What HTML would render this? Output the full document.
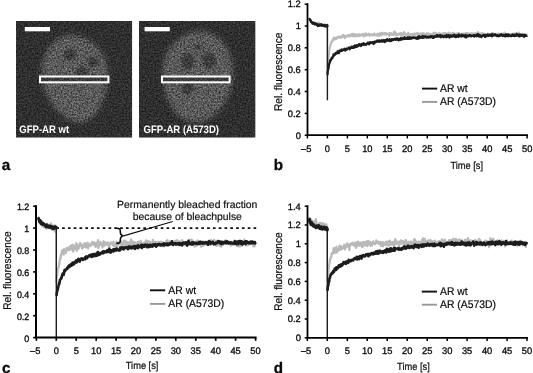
<!DOCTYPE html>
<html lang="en"><head><meta charset="utf-8"><title>FRAP of GFP-AR wt and GFP-AR (A573D)</title>
<style>
html,body{margin:0;padding:0;background:#fff;}
body{width:533px;height:373px;overflow:hidden;}
svg{display:block;font-family:"Liberation Sans", Arial, Helvetica, sans-serif;text-rendering:geometricPrecision;}
.tk{font-size:9.3px;fill:#0a0a0a;stroke:#0a0a0a;stroke-width:0.32px;}
.tx{font-size:9.5px;fill:#0a0a0a;stroke:#0a0a0a;stroke-width:0.32px;}
.lg{font-size:11px;fill:#0a0a0a;stroke:#0a0a0a;stroke-width:0.2px;}
.ax{font-size:10.3px;fill:#0a0a0a;stroke:#0a0a0a;stroke-width:0.2px;}
.ay{font-size:11.1px;fill:#0a0a0a;stroke:#0a0a0a;stroke-width:0.2px;}
.pl{font-size:15.2px;font-weight:bold;fill:#0a0a0a;stroke:#0a0a0a;stroke-width:0.3px;}
.im{font-size:10.8px;font-weight:bold;fill:#fff;}
.an{font-size:10.4px;fill:#111;stroke:#111;stroke-width:0.2px;}
</style></head><body>
<svg width="533" height="373" viewBox="0 0 533 373">
<defs>
<filter id="noise" x="0" y="0" width="100%" height="100%" color-interpolation-filters="sRGB">
<feTurbulence type="fractalNoise" baseFrequency="0.62" numOctaves="2" seed="5" result="t"/>
<feColorMatrix in="t" type="matrix" values="1 0 0 0 0  1 0 0 0 0  1 0 0 0 0  0 0 0 0 1" result="n"/>
<feComposite in="SourceGraphic" in2="n" operator="arithmetic" k1="1.8" k2="0.1" k3="0" k4="0"/>
</filter>
<filter id="blur" x="-20%" y="-20%" width="140%" height="140%"><feGaussianBlur stdDeviation="2.8"/></filter>
<filter id="blur2" x="-50%" y="-50%" width="200%" height="200%"><feGaussianBlur stdDeviation="1.6"/></filter>
<clipPath id="c1"><rect x="16" y="21" width="116.2" height="116.5"/></clipPath>
<clipPath id="c2"><rect x="139" y="21" width="116.4" height="116.5"/></clipPath>
</defs>
<g clip-path="url(#c1)"><g filter="url(#noise)"><rect x="16" y="21" width="116.2" height="116.5" fill="#2f2f2f"/><path d="M72,35 C90,35 108.2,52 108.2,74 C108.2,98 96,122.5 80,122.5 C62,122.5 41.4,98 41.4,72 C41.4,51 55,35 72,35 Z" fill="#5a5a5a" filter="url(#blur)"/><ellipse cx="70" cy="54.5" rx="6.5" ry="5.5" fill="#3a3a3a" filter="url(#blur2)"/><ellipse cx="93" cy="61.7" rx="5" ry="5" fill="#3a3a3a" filter="url(#blur2)"/><ellipse cx="82" cy="71.5" rx="6.5" ry="4.5" fill="#3a3a3a" filter="url(#blur2)"/><rect x="40" y="76.5" width="68.4" height="5.8" fill="#3c3c3c"/></g></g>
<rect x="40" y="76.5" width="68.4" height="5.8" fill="none" stroke="#fff" stroke-width="2"/><rect x="24.8" y="27" width="25.2" height="4.3" fill="#fff"/><text class="im" transform="translate(19.30,133.10) scale(0.885,1)">GFP-AR wt</text>
<g clip-path="url(#c2)"><g filter="url(#noise)"><rect x="139" y="21" width="116.4" height="116.5" fill="#2f2f2f"/><path d="M200,31 C218,31 233,48 233,72 C233,100 215,122.5 195,122.5 C177,122.5 162.5,100 162.5,72 C162.5,48 182,31 200,31 Z" fill="#5a5a5a" filter="url(#blur)"/><ellipse cx="187.8" cy="61.5" rx="6.5" ry="8.5" fill="#3a3a3a" filter="url(#blur2)"/><ellipse cx="209.2" cy="60.5" rx="6.5" ry="8" fill="#3a3a3a" filter="url(#blur2)"/><ellipse cx="198.3" cy="47.4" rx="3.2" ry="3.2" fill="#3a3a3a" filter="url(#blur2)"/><ellipse cx="187.8" cy="88" rx="6.5" ry="6" fill="#3a3a3a" filter="url(#blur2)"/><rect x="162" y="76.5" width="67.6" height="5.8" fill="#3c3c3c"/></g></g>
<rect x="162" y="76.5" width="67.6" height="5.8" fill="none" stroke="#fff" stroke-width="2"/><rect x="144.6" y="27" width="25.2" height="4.3" fill="#fff"/><text class="im" transform="translate(143.60,133.10) scale(0.885,1)">GFP-AR (A573D)</text>
<text class="pl" transform="translate(1.80,170.10)">a</text>
<path d="M309.6,19.4 L310.0,20.3 L310.3,20.3 L310.6,20.2 L311.0,20.9 L311.3,20.8 L311.7,22.0 L312.0,23.4 L312.3,22.1 L312.7,22.2 L313.0,23.3 L313.4,23.4 L313.7,23.4 L314.0,22.6 L314.4,23.5 L314.7,24.3 L315.1,22.6 L315.4,23.5 L315.7,22.4 L316.1,23.0 L316.4,22.6 L316.8,24.0 L317.1,23.2 L317.4,24.6 L317.8,24.6 L318.1,24.3 L318.5,22.4 L318.8,24.2 L319.1,24.6 L319.5,24.8 L319.8,23.5 L320.2,24.4 L320.5,24.0 L320.8,24.2 L321.2,25.9 L321.5,24.3 L321.9,25.0 L322.2,25.9 L322.5,24.7 L322.9,25.1 L323.2,25.3 L323.6,25.3 L323.9,24.3 L324.2,25.4 L324.6,26.6 L324.9,24.2 L325.3,26.2 L325.6,25.7 L325.9,25.1 L326.3,27.3 L326.6,26.3 L327.0,24.7 L327.3,25.8 L327.4,25.8" fill="none" stroke="#b9b9b9" stroke-width="2" stroke-linejoin="round" stroke-linecap="round"/>
<line x1="327.4" y1="25.8" x2="327.4" y2="67.5" stroke="#b9b9b9" stroke-width="1.4"/>
<path d="M327.5,67.5 L327.7,64.7 L328.0,60.9 L328.4,58.8 L328.7,55.5 L329.1,53.4 L329.4,51.7 L329.7,47.6 L330.1,46.9 L330.4,45.1 L330.8,44.5 L331.1,42.3 L331.4,41.8 L331.8,41.2 L332.1,41.7 L332.5,41.5 L332.8,39.1 L333.1,39.2 L333.5,40.1 L333.8,37.5 L334.2,38.5 L334.5,38.6 L334.8,39.5 L335.2,38.9 L335.5,37.9 L335.9,37.7 L336.2,37.7 L336.5,39.1 L336.9,37.3 L337.2,37.3 L337.6,37.7 L337.9,37.3 L338.2,37.1 L338.6,36.3 L338.9,37.2 L339.3,36.7 L339.6,38.1 L339.9,37.6 L340.3,36.9 L340.6,37.5 L341.0,36.6 L341.3,37.7 L341.6,36.8 L342.0,37.2 L342.3,35.6 L342.7,36.9 L343.0,35.1 L343.3,34.8 L343.7,36.2 L344.0,35.7 L344.4,36.5 L344.7,38.3 L345.0,35.6 L345.4,35.7 L345.7,36.4 L346.1,36.6 L346.4,36.0 L346.7,35.9 L347.1,36.7 L347.4,36.5 L347.8,35.1 L348.1,35.9 L348.4,36.0 L348.8,35.0 L349.1,36.1 L349.5,35.1 L349.8,36.7 L350.1,36.0 L350.5,35.9 L350.8,35.2 L351.2,35.6 L351.5,34.0 L351.8,34.7 L352.2,36.0 L352.5,33.8 L352.9,36.3 L353.2,34.1 L353.5,36.2 L353.9,34.8 L354.2,36.2 L354.6,35.6 L354.9,34.1 L355.2,36.5 L355.6,36.6 L355.9,35.3 L356.3,35.1 L356.6,35.2 L356.9,34.5 L357.3,36.2 L357.6,34.8 L358.0,35.2 L358.3,34.6 L358.6,34.7 L359.0,34.1 L359.3,36.2 L359.7,35.0 L360.0,36.0 L360.3,35.1 L360.7,34.5 L361.0,34.8 L361.4,34.6 L361.7,35.1 L362.0,34.7 L362.4,34.8 L362.7,33.8 L363.1,34.3 L363.4,36.4 L363.7,34.4 L364.1,34.1 L364.4,35.2 L364.8,36.1 L365.1,33.7 L365.4,34.7 L365.8,34.3 L366.1,33.4 L366.5,35.5 L366.8,34.8 L367.1,34.9 L367.5,34.2 L367.8,35.2 L368.2,34.3 L368.5,34.6 L368.8,33.8 L369.2,33.7 L369.5,35.9 L369.9,34.3 L370.2,35.0 L370.5,34.7 L370.9,34.3 L371.2,34.2 L371.6,35.2 L371.9,34.4 L372.2,34.5 L372.6,34.6 L372.9,35.6 L373.3,35.2 L373.6,34.9 L373.9,34.1 L374.3,33.4 L374.6,35.3 L375.0,35.4 L375.3,34.4 L375.6,35.0 L376.0,35.2 L376.3,35.2 L376.7,35.3 L377.0,34.1 L377.3,35.8 L377.7,33.4 L378.0,35.2 L378.4,34.9 L378.7,35.2 L379.0,36.0 L379.4,35.7 L379.7,33.5 L380.1,33.0 L380.4,35.1 L380.7,33.6 L381.1,34.4 L381.4,35.1 L381.8,33.0 L382.1,32.6 L382.4,34.6 L382.8,34.4 L383.1,34.2 L383.5,34.4 L383.8,33.6 L384.1,33.1 L384.5,34.2 L384.8,33.5 L385.2,32.9 L385.5,34.8 L385.8,34.3 L386.2,34.7 L386.5,33.5 L386.9,33.8 L387.2,33.5 L387.5,33.6 L387.9,34.5 L388.2,33.6 L388.6,34.6 L388.9,34.6 L389.2,36.0 L389.6,33.1 L389.9,35.0 L390.3,34.2 L390.6,34.2 L390.9,33.0 L391.3,33.9 L391.6,34.9 L392.0,34.2 L392.3,34.3 L392.6,34.0 L393.0,35.2 L393.3,34.2 L393.7,32.3 L394.0,33.6 L394.3,32.5 L394.7,31.4 L395.0,33.7 L395.4,35.3 L395.7,34.2 L396.0,33.2 L396.4,33.4 L396.7,35.2 L397.1,34.3 L397.4,34.2 L397.7,34.1 L398.1,34.2 L398.4,34.9 L398.8,34.7 L399.1,34.4 L399.4,33.3 L399.8,34.6 L400.1,33.6 L400.5,35.1 L400.8,33.1 L401.1,34.1 L401.5,34.2 L401.8,33.1 L402.2,35.7 L402.5,35.4 L402.8,33.8 L403.2,34.8 L403.5,34.5 L403.9,32.0 L404.2,34.4 L404.5,34.1 L404.9,34.3 L405.2,33.3 L405.6,34.0 L405.9,34.0 L406.2,35.2 L406.6,34.5 L406.9,34.2 L407.3,35.5 L407.6,33.7 L407.9,33.9 L408.3,32.6 L408.6,35.5 L409.0,35.0 L409.3,35.0 L409.6,34.8 L410.0,34.3 L410.3,34.4 L410.7,34.0 L411.0,34.0 L411.3,34.2 L411.7,35.5 L412.0,34.7 L412.4,34.1 L412.7,33.7 L413.0,33.7 L413.4,35.6 L413.7,34.6 L414.1,34.2 L414.4,33.9 L414.7,33.2 L415.1,34.1 L415.4,34.9 L415.8,33.9 L416.1,34.0 L416.4,34.0 L416.8,34.3 L417.1,32.8 L417.5,34.0 L417.8,33.5 L418.1,34.9 L418.5,33.5 L418.8,34.7 L419.2,35.5 L419.5,33.9 L419.8,33.7 L420.2,34.4 L420.5,34.2 L420.9,33.3 L421.2,34.6 L421.5,35.9 L421.9,34.0 L422.2,34.0 L422.6,33.3 L422.9,34.5 L423.2,33.1 L423.6,33.2 L423.9,35.3 L424.3,33.4 L424.6,35.1 L424.9,35.5 L425.3,34.4 L425.6,34.7 L426.0,35.8 L426.3,34.0 L426.6,33.7 L427.0,33.0 L427.3,34.2 L427.7,35.4 L428.0,35.0 L428.3,33.4 L428.7,33.5 L429.0,33.8 L429.4,34.4 L429.7,34.0 L430.0,34.4 L430.4,34.4 L430.7,33.9 L431.1,34.2 L431.4,34.4 L431.7,34.1 L432.1,34.6 L432.4,35.8 L432.8,34.7 L433.1,34.2 L433.4,32.8 L433.8,34.5 L434.1,32.5 L434.5,33.0 L434.8,34.9 L435.1,34.8 L435.5,34.1 L435.8,32.7 L436.2,33.9 L436.5,33.6 L436.8,34.7 L437.2,36.1 L437.5,34.4 L437.9,33.5 L438.2,33.2 L438.5,34.1 L438.9,34.0 L439.2,33.2 L439.6,34.3 L439.9,33.2 L440.2,35.1 L440.6,35.1 L440.9,35.1 L441.3,33.8 L441.6,34.6 L441.9,34.1 L442.3,33.9 L442.6,33.9 L443.0,33.1 L443.3,33.0 L443.6,34.9 L444.0,34.0 L444.3,34.4 L444.7,35.0 L445.0,32.7 L445.3,33.5 L445.7,34.3 L446.0,34.5 L446.4,33.9 L446.7,35.1 L447.0,34.4 L447.4,33.2 L447.7,33.4 L448.1,34.9 L448.4,34.6 L448.7,32.6 L449.1,35.4 L449.4,34.7 L449.8,35.4 L450.1,33.9 L450.4,34.0 L450.8,33.3 L451.1,36.4 L451.5,34.1 L451.8,35.6 L452.1,33.7 L452.5,34.4 L452.8,32.8 L453.2,33.9 L453.5,35.1 L453.8,33.2 L454.2,35.2 L454.5,34.5 L454.9,33.4 L455.2,33.8 L455.5,33.9 L455.9,34.2 L456.2,33.8 L456.6,33.6 L456.9,34.0 L457.2,33.4 L457.6,33.2 L457.9,34.2 L458.3,35.0 L458.6,33.0 L458.9,34.3 L459.3,33.7 L459.6,33.5 L460.0,35.0 L460.3,33.9 L460.6,35.6 L461.0,33.7 L461.3,34.6 L461.7,34.1 L462.0,33.7 L462.3,34.8 L462.7,34.2 L463.0,34.8 L463.4,34.3 L463.7,33.4 L464.0,34.3 L464.4,34.4 L464.7,35.2 L465.1,33.6 L465.4,34.3 L465.7,32.9 L466.1,34.9 L466.4,33.4 L466.8,32.8 L467.1,34.3 L467.4,35.3 L467.8,33.1 L468.1,33.4 L468.5,33.7 L468.8,33.4 L469.1,34.7 L469.5,33.7 L469.8,33.8 L470.2,34.9 L470.5,33.7 L470.8,34.8 L471.2,33.6 L471.5,33.4 L471.9,32.8 L472.2,36.0 L472.5,34.1 L472.9,34.6 L473.2,34.4 L473.6,34.6 L473.9,34.5 L474.2,36.0 L474.6,33.5 L474.9,33.1 L475.3,33.6 L475.6,33.3 L475.9,35.1 L476.3,35.1 L476.6,33.6 L477.0,33.3 L477.3,34.1 L477.6,35.6 L478.0,32.1 L478.3,34.9 L478.7,33.5 L479.0,35.3 L479.3,33.5 L479.7,34.2 L480.0,33.2 L480.4,33.6 L480.7,35.6 L481.0,35.2 L481.4,34.1 L481.7,33.7 L482.1,32.9 L482.4,34.1 L482.7,34.5 L483.1,34.4 L483.4,34.4 L483.8,33.5 L484.1,34.4 L484.4,34.5 L484.8,35.6 L485.1,36.1 L485.5,34.4 L485.8,33.9 L486.1,34.5 L486.5,34.0 L486.8,33.9 L487.2,34.5 L487.5,33.6 L487.8,35.0 L488.2,34.4 L488.5,34.7 L488.9,34.4 L489.2,33.9 L489.5,33.7 L489.9,34.3 L490.2,34.1 L490.6,34.8 L490.9,34.6 L491.2,33.4 L491.6,34.6 L491.9,33.4 L492.3,34.1 L492.6,34.3 L492.9,32.8 L493.3,34.7 L493.6,34.7 L494.0,34.5 L494.3,34.2 L494.6,34.3 L495.0,33.8 L495.3,34.4 L495.7,34.1 L496.0,34.7 L496.3,33.6 L496.7,34.8 L497.0,34.8 L497.4,34.5 L497.7,34.3 L498.0,35.1 L498.4,33.2 L498.7,35.0 L499.1,34.9 L499.4,34.9 L499.7,35.0 L500.1,34.1 L500.4,34.5 L500.8,35.2 L501.1,35.0 L501.4,34.9 L501.8,33.4 L502.1,35.1 L502.5,35.7 L502.8,35.6 L503.1,34.9 L503.5,33.4 L503.8,35.5 L504.2,34.6 L504.5,32.6 L504.8,35.0 L505.2,33.5 L505.5,33.6 L505.9,34.2 L506.2,35.8 L506.5,34.4 L506.9,35.0 L507.2,36.2 L507.6,36.1 L507.9,34.7 L508.2,34.6 L508.6,33.7 L508.9,34.2 L509.3,35.1 L509.6,35.1 L509.9,34.9 L510.3,35.6 L510.6,34.1 L511.0,34.7 L511.3,35.4 L511.6,35.3 L512.0,35.7 L512.3,35.1 L512.7,34.5 L513.0,35.1 L513.3,34.0 L513.7,33.4 L514.0,35.3 L514.4,34.8 L514.7,35.1 L515.0,33.4 L515.4,34.5 L515.7,34.3 L516.1,34.1 L516.4,32.9 L516.7,34.6 L517.1,35.6 L517.4,35.2 L517.8,34.3 L518.1,34.9 L518.4,35.5 L518.8,32.5 L519.1,34.8 L519.5,35.3 L519.8,35.5 L520.1,36.3 L520.5,35.9 L520.8,35.2 L521.2,35.2 L521.5,35.6 L521.8,34.4 L522.2,34.9 L522.5,35.7 L522.9,36.6 L523.2,34.8 L523.5,34.9 L523.9,35.1 L524.2,36.1 L524.6,34.9 L524.9,36.2 L525.2,34.1 L525.6,34.8 L525.9,34.8 L526.3,35.6 L526.6,35.8 L526.9,33.7" fill="none" stroke="#b9b9b9" stroke-width="2" stroke-linejoin="round" stroke-linecap="butt"/>
<path d="M309.6,18.9 L310.0,20.2 L310.3,20.2 L310.6,20.1 L311.0,22.0 L311.3,22.1 L311.7,22.4 L312.0,22.1 L312.3,23.3 L312.7,22.7 L313.0,23.7 L313.4,22.7 L313.7,22.9 L314.0,23.7 L314.4,23.3 L314.7,24.3 L315.1,24.1 L315.4,23.5 L315.7,24.2 L316.1,24.1 L316.4,24.9 L316.8,24.1 L317.1,24.2 L317.4,25.3 L317.8,26.0 L318.1,25.9 L318.5,24.8 L318.8,25.0 L319.1,25.8 L319.5,24.9 L319.8,24.4 L320.2,25.1 L320.5,25.4 L320.8,24.6 L321.2,24.2 L321.5,24.4 L321.9,25.7 L322.2,24.9 L322.5,25.3 L322.9,25.5 L323.2,25.8 L323.6,25.3 L323.9,25.9 L324.2,25.1 L324.6,25.4 L324.9,25.1 L325.3,26.4 L325.6,25.8 L325.9,25.4 L326.3,25.6 L326.6,25.8 L327.0,26.4 L327.3,25.0 L327.4,26.0" fill="none" stroke="#1c1c1c" stroke-width="2.3" stroke-linejoin="round" stroke-linecap="round"/>
<line x1="327.4" y1="26.0" x2="327.4" y2="100.3" stroke="#1c1c1c" stroke-width="1.4"/>
<path d="M327.5,75.1 L327.7,71.6 L328.0,69.2 L328.4,69.1 L328.7,66.4 L329.1,64.3 L329.4,63.4 L329.7,62.9 L330.1,60.7 L330.4,60.0 L330.8,60.3 L331.1,59.3 L331.4,58.8 L331.8,57.6 L332.1,58.5 L332.5,57.9 L332.8,56.8 L333.1,56.4 L333.5,54.4 L333.8,55.7 L334.2,54.9 L334.5,55.0 L334.8,54.9 L335.2,54.0 L335.5,53.0 L335.9,54.0 L336.2,53.1 L336.5,53.1 L336.9,52.7 L337.2,52.7 L337.6,51.3 L337.9,53.2 L338.2,52.4 L338.6,52.8 L338.9,53.1 L339.3,51.8 L339.6,50.5 L339.9,50.9 L340.3,50.6 L340.6,50.8 L341.0,51.0 L341.3,49.7 L341.6,50.9 L342.0,49.7 L342.3,50.6 L342.7,50.2 L343.0,50.0 L343.3,50.0 L343.7,49.6 L344.0,49.4 L344.4,48.7 L344.7,49.5 L345.0,50.5 L345.4,50.5 L345.7,50.0 L346.1,49.5 L346.4,48.6 L346.7,49.7 L347.1,48.7 L347.4,48.6 L347.8,48.4 L348.1,48.5 L348.4,48.1 L348.8,48.2 L349.1,47.5 L349.5,47.8 L349.8,49.3 L350.1,47.8 L350.5,47.6 L350.8,47.9 L351.2,47.9 L351.5,46.7 L351.8,47.2 L352.2,47.8 L352.5,47.3 L352.9,47.1 L353.2,47.9 L353.5,46.4 L353.9,46.8 L354.2,46.4 L354.6,47.5 L354.9,45.3 L355.2,46.0 L355.6,46.0 L355.9,46.7 L356.3,46.5 L356.6,46.9 L356.9,45.1 L357.3,46.4 L357.6,45.7 L358.0,45.4 L358.3,46.0 L358.6,45.0 L359.0,44.3 L359.3,45.2 L359.7,44.4 L360.0,44.9 L360.3,45.4 L360.7,45.3 L361.0,46.0 L361.4,44.8 L361.7,44.0 L362.0,44.4 L362.4,44.2 L362.7,43.9 L363.1,44.9 L363.4,44.1 L363.7,43.3 L364.1,44.8 L364.4,44.2 L364.8,44.5 L365.1,44.2 L365.4,44.5 L365.8,44.1 L366.1,44.7 L366.5,44.1 L366.8,44.0 L367.1,44.0 L367.5,42.8 L367.8,43.5 L368.2,43.4 L368.5,43.6 L368.8,42.6 L369.2,44.3 L369.5,43.3 L369.9,42.5 L370.2,42.1 L370.5,42.9 L370.9,42.9 L371.2,42.5 L371.6,42.9 L371.9,42.4 L372.2,43.1 L372.6,42.2 L372.9,42.6 L373.3,43.1 L373.6,44.0 L373.9,41.8 L374.3,42.1 L374.6,41.8 L375.0,42.7 L375.3,41.5 L375.6,41.8 L376.0,42.0 L376.3,41.4 L376.7,41.3 L377.0,41.5 L377.3,40.5 L377.7,40.8 L378.0,41.4 L378.4,41.6 L378.7,41.4 L379.0,40.4 L379.4,41.1 L379.7,41.8 L380.1,41.6 L380.4,41.1 L380.7,40.6 L381.1,41.4 L381.4,40.6 L381.8,40.2 L382.1,40.4 L382.4,41.7 L382.8,40.9 L383.1,41.4 L383.5,40.3 L383.8,41.1 L384.1,40.2 L384.5,40.4 L384.8,42.0 L385.2,40.9 L385.5,40.1 L385.8,40.3 L386.2,40.5 L386.5,41.0 L386.9,39.9 L387.2,39.1 L387.5,40.0 L387.9,40.1 L388.2,40.1 L388.6,40.8 L388.9,40.2 L389.2,40.5 L389.6,39.3 L389.9,40.4 L390.3,41.1 L390.6,40.3 L390.9,39.9 L391.3,39.8 L391.6,40.8 L392.0,39.1 L392.3,39.6 L392.6,39.9 L393.0,40.0 L393.3,39.3 L393.7,39.7 L394.0,39.3 L394.3,39.5 L394.7,39.3 L395.0,38.7 L395.4,39.3 L395.7,39.8 L396.0,38.7 L396.4,39.1 L396.7,39.6 L397.1,38.5 L397.4,39.2 L397.7,38.5 L398.1,39.7 L398.4,40.4 L398.8,40.2 L399.1,38.8 L399.4,39.4 L399.8,39.0 L400.1,38.9 L400.5,39.8 L400.8,38.0 L401.1,39.4 L401.5,38.7 L401.8,39.6 L402.2,38.8 L402.5,38.2 L402.8,38.8 L403.2,39.0 L403.5,38.6 L403.9,38.8 L404.2,38.2 L404.5,37.2 L404.9,39.0 L405.2,38.8 L405.6,38.5 L405.9,38.4 L406.2,38.9 L406.6,38.0 L406.9,37.8 L407.3,38.1 L407.6,38.9 L407.9,37.4 L408.3,38.9 L408.6,37.8 L409.0,37.4 L409.3,38.8 L409.6,38.0 L410.0,37.3 L410.3,37.8 L410.7,38.5 L411.0,38.7 L411.3,37.7 L411.7,38.2 L412.0,38.3 L412.4,37.5 L412.7,38.1 L413.0,37.8 L413.4,37.5 L413.7,37.5 L414.1,37.8 L414.4,37.7 L414.7,37.4 L415.1,37.4 L415.4,38.3 L415.8,37.8 L416.1,38.1 L416.4,38.3 L416.8,37.9 L417.1,38.9 L417.5,37.0 L417.8,38.0 L418.1,37.3 L418.5,38.6 L418.8,38.5 L419.2,36.2 L419.5,36.8 L419.8,37.8 L420.2,37.8 L420.5,37.8 L420.9,37.3 L421.2,37.6 L421.5,37.7 L421.9,37.2 L422.2,37.8 L422.6,35.8 L422.9,37.6 L423.2,36.5 L423.6,37.7 L423.9,37.0 L424.3,36.6 L424.6,37.3 L424.9,36.5 L425.3,36.5 L425.6,36.1 L426.0,37.0 L426.3,37.3 L426.6,37.6 L427.0,36.9 L427.3,37.5 L427.7,36.9 L428.0,36.8 L428.3,37.2 L428.7,37.5 L429.0,36.6 L429.4,36.7 L429.7,36.7 L430.0,36.9 L430.4,36.3 L430.7,37.4 L431.1,36.5 L431.4,37.0 L431.7,36.2 L432.1,36.9 L432.4,36.9 L432.8,36.4 L433.1,37.9 L433.4,36.9 L433.8,37.7 L434.1,37.2 L434.5,36.2 L434.8,36.4 L435.1,36.9 L435.5,36.6 L435.8,36.6 L436.2,36.4 L436.5,35.5 L436.8,36.4 L437.2,35.2 L437.5,36.7 L437.9,36.1 L438.2,36.1 L438.5,36.3 L438.9,36.6 L439.2,35.6 L439.6,35.4 L439.9,35.8 L440.2,35.2 L440.6,35.8 L440.9,37.3 L441.3,35.7 L441.6,36.7 L441.9,35.5 L442.3,36.5 L442.6,36.1 L443.0,36.3 L443.3,36.6 L443.6,37.3 L444.0,36.4 L444.3,36.3 L444.7,35.7 L445.0,36.6 L445.3,36.1 L445.7,36.7 L446.0,36.2 L446.4,37.2 L446.7,35.0 L447.0,36.0 L447.4,36.7 L447.7,35.9 L448.1,35.7 L448.4,36.0 L448.7,35.3 L449.1,36.2 L449.4,37.6 L449.8,36.8 L450.1,35.4 L450.4,35.6 L450.8,35.8 L451.1,36.7 L451.5,35.6 L451.8,35.7 L452.1,36.6 L452.5,36.6 L452.8,35.8 L453.2,35.4 L453.5,35.1 L453.8,35.6 L454.2,34.7 L454.5,36.5 L454.9,35.6 L455.2,36.3 L455.5,37.1 L455.9,36.7 L456.2,35.3 L456.6,36.5 L456.9,36.7 L457.2,35.5 L457.6,35.4 L457.9,35.9 L458.3,35.0 L458.6,36.8 L458.9,34.5 L459.3,35.3 L459.6,35.8 L460.0,35.8 L460.3,36.0 L460.6,36.1 L461.0,35.8 L461.3,36.6 L461.7,34.6 L462.0,35.9 L462.3,35.5 L462.7,36.0 L463.0,36.0 L463.4,35.3 L463.7,35.5 L464.0,36.3 L464.4,36.1 L464.7,35.4 L465.1,37.1 L465.4,37.2 L465.7,35.0 L466.1,36.0 L466.4,37.3 L466.8,36.3 L467.1,35.9 L467.4,35.7 L467.8,35.5 L468.1,35.7 L468.5,35.5 L468.8,36.2 L469.1,35.5 L469.5,35.5 L469.8,35.0 L470.2,35.7 L470.5,35.2 L470.8,35.6 L471.2,36.4 L471.5,36.0 L471.9,36.0 L472.2,35.9 L472.5,35.8 L472.9,35.6 L473.2,35.5 L473.6,36.2 L473.9,35.0 L474.2,36.5 L474.6,35.7 L474.9,35.2 L475.3,35.4 L475.6,35.3 L475.9,35.8 L476.3,35.2 L476.6,36.3 L477.0,35.2 L477.3,34.3 L477.6,35.2 L478.0,34.4 L478.3,35.6 L478.7,36.3 L479.0,36.0 L479.3,34.8 L479.7,35.2 L480.0,36.7 L480.4,35.8 L480.7,35.6 L481.0,36.2 L481.4,37.1 L481.7,36.4 L482.1,35.7 L482.4,35.8 L482.7,35.9 L483.1,35.2 L483.4,34.9 L483.8,35.6 L484.1,35.0 L484.4,35.5 L484.8,35.6 L485.1,36.9 L485.5,35.0 L485.8,35.4 L486.1,35.4 L486.5,35.8 L486.8,36.1 L487.2,35.2 L487.5,35.0 L487.8,34.5 L488.2,34.9 L488.5,35.8 L488.9,35.5 L489.2,34.9 L489.5,35.3 L489.9,35.5 L490.2,35.8 L490.6,35.1 L490.9,35.3 L491.2,34.4 L491.6,34.8 L491.9,36.4 L492.3,34.1 L492.6,35.2 L492.9,35.6 L493.3,35.2 L493.6,35.0 L494.0,35.4 L494.3,35.4 L494.6,35.4 L495.0,34.3 L495.3,35.3 L495.7,34.9 L496.0,35.1 L496.3,35.6 L496.7,35.8 L497.0,36.0 L497.4,35.1 L497.7,36.0 L498.0,36.1 L498.4,36.1 L498.7,36.2 L499.1,35.3 L499.4,35.3 L499.7,35.9 L500.1,34.6 L500.4,35.5 L500.8,35.1 L501.1,35.2 L501.4,34.3 L501.8,34.8 L502.1,35.4 L502.5,35.9 L502.8,36.0 L503.1,35.3 L503.5,35.2 L503.8,34.9 L504.2,35.6 L504.5,35.2 L504.8,35.7 L505.2,36.4 L505.5,35.3 L505.9,34.4 L506.2,34.8 L506.5,34.5 L506.9,34.6 L507.2,36.1 L507.6,35.5 L507.9,34.4 L508.2,35.7 L508.6,36.1 L508.9,35.1 L509.3,34.9 L509.6,35.1 L509.9,35.5 L510.3,35.7 L510.6,36.0 L511.0,36.0 L511.3,36.0 L511.6,36.1 L512.0,35.7 L512.3,34.4 L512.7,35.2 L513.0,35.5 L513.3,35.0 L513.7,35.8 L514.0,35.1 L514.4,34.7 L514.7,36.1 L515.0,35.7 L515.4,35.4 L515.7,35.8 L516.1,35.9 L516.4,35.5 L516.7,33.8 L517.1,34.8 L517.4,35.0 L517.8,34.7 L518.1,35.4 L518.4,36.0 L518.8,34.9 L519.1,34.6 L519.5,36.4 L519.8,35.0 L520.1,34.5 L520.5,35.4 L520.8,35.5 L521.2,34.8 L521.5,35.7 L521.8,34.9 L522.2,34.7 L522.5,35.3 L522.9,35.7 L523.2,34.8 L523.5,35.4 L523.9,35.1 L524.2,36.9 L524.6,34.8 L524.9,36.0 L525.2,35.2 L525.6,35.1 L525.9,35.6 L526.3,35.7 L526.6,35.9 L526.9,35.4" fill="none" stroke="#1c1c1c" stroke-width="2.3" stroke-linejoin="round" stroke-linecap="butt"/>
<line x1="304.7" y1="135.2" x2="307.5" y2="135.2" stroke="#000" stroke-width="1.5"/><text class="tk" text-anchor="end" transform="translate(300.80,138.50)">0</text><line x1="304.7" y1="113.4" x2="307.5" y2="113.4" stroke="#000" stroke-width="1.5"/><text class="tk" text-anchor="end" transform="translate(300.80,116.66)">0.2</text><line x1="304.7" y1="91.5" x2="307.5" y2="91.5" stroke="#000" stroke-width="1.5"/><text class="tk" text-anchor="end" transform="translate(300.80,94.82)">0.4</text><line x1="304.7" y1="69.7" x2="307.5" y2="69.7" stroke="#000" stroke-width="1.5"/><text class="tk" text-anchor="end" transform="translate(300.80,72.98)">0.6</text><line x1="304.7" y1="47.8" x2="307.5" y2="47.8" stroke="#000" stroke-width="1.5"/><text class="tk" text-anchor="end" transform="translate(300.80,51.14)">0.8</text><line x1="304.7" y1="26.0" x2="307.5" y2="26.0" stroke="#000" stroke-width="1.5"/><text class="tk" text-anchor="end" transform="translate(300.80,29.30)">1</text><line x1="304.7" y1="4.2" x2="307.5" y2="4.2" stroke="#000" stroke-width="1.5"/><text class="tk" text-anchor="end" transform="translate(300.80,7.46)">1.2</text><line x1="307.4" y1="135.2" x2="307.4" y2="138.4" stroke="#000" stroke-width="1.5"/><text class="tx" text-anchor="middle" transform="translate(306.22,151.70) scale(0.98,1)">–5</text><line x1="327.4" y1="135.2" x2="327.4" y2="138.4" stroke="#000" stroke-width="1.5"/><text class="tx" text-anchor="middle" transform="translate(327.40,151.70) scale(0.98,1)">0</text><line x1="347.4" y1="135.2" x2="347.4" y2="138.4" stroke="#000" stroke-width="1.5"/><text class="tx" text-anchor="middle" transform="translate(347.38,151.70) scale(0.98,1)">5</text><line x1="367.3" y1="135.2" x2="367.3" y2="138.4" stroke="#000" stroke-width="1.5"/><text class="tx" text-anchor="middle" transform="translate(367.35,151.70) scale(0.98,1)">10</text><line x1="387.3" y1="135.2" x2="387.3" y2="138.4" stroke="#000" stroke-width="1.5"/><text class="tx" text-anchor="middle" transform="translate(387.32,151.70) scale(0.98,1)">15</text><line x1="407.3" y1="135.2" x2="407.3" y2="138.4" stroke="#000" stroke-width="1.5"/><text class="tx" text-anchor="middle" transform="translate(407.30,151.70) scale(0.98,1)">20</text><line x1="427.3" y1="135.2" x2="427.3" y2="138.4" stroke="#000" stroke-width="1.5"/><text class="tx" text-anchor="middle" transform="translate(427.27,151.70) scale(0.98,1)">25</text><line x1="447.2" y1="135.2" x2="447.2" y2="138.4" stroke="#000" stroke-width="1.5"/><text class="tx" text-anchor="middle" transform="translate(447.25,151.70) scale(0.98,1)">30</text><line x1="467.2" y1="135.2" x2="467.2" y2="138.4" stroke="#000" stroke-width="1.5"/><text class="tx" text-anchor="middle" transform="translate(467.23,151.70) scale(0.98,1)">35</text><line x1="487.2" y1="135.2" x2="487.2" y2="138.4" stroke="#000" stroke-width="1.5"/><text class="tx" text-anchor="middle" transform="translate(487.20,151.70) scale(0.98,1)">40</text><line x1="507.2" y1="135.2" x2="507.2" y2="138.4" stroke="#000" stroke-width="1.5"/><text class="tx" text-anchor="middle" transform="translate(507.17,151.70) scale(0.98,1)">45</text><line x1="527.1" y1="135.2" x2="527.1" y2="138.4" stroke="#000" stroke-width="1.5"/><text class="tx" text-anchor="middle" transform="translate(527.15,151.70) scale(0.98,1)">50</text>
<path d="M307.5,4.2 V135.2 H527.1" fill="none" stroke="#000" stroke-width="1.8" stroke-linecap="square"/>
<text class="ay" text-anchor="middle" transform="translate(282.00,71.80) rotate(-90) scale(0.915,1)">Rel. fluorescence</text>
<text class="ax" transform="translate(450.40,169.30) scale(0.9,1)">Time [s]</text>
<text class="pl" transform="translate(273.80,169.80)">b</text>
<line x1="422" y1="88.6" x2="437.2" y2="88.6" stroke="#111" stroke-width="1.9"/><text class="lg" transform="translate(440.00,92.10) scale(0.945,1)">AR wt</text><line x1="422" y1="101.9" x2="437.2" y2="101.9" stroke="#999" stroke-width="1.9"/><text class="lg" transform="translate(440.00,105.40) scale(0.945,1)">AR (A573D)</text>
<line x1="56.3" y1="228.1" x2="256.6" y2="228.1" stroke="#111" stroke-width="1.8" stroke-dasharray="2.7 3.1"/>
<path d="M38.6,217.3 L38.9,218.2 L39.2,220.4 L39.6,221.2 L39.9,223.0 L40.3,222.0 L40.6,223.4 L40.9,224.6 L41.3,222.9 L41.6,220.8 L42.0,221.6 L42.3,221.5 L42.6,226.4 L43.0,223.0 L43.3,226.3 L43.7,225.6 L44.0,227.5 L44.3,226.6 L44.7,225.1 L45.0,225.2 L45.4,225.8 L45.7,226.0 L46.0,225.1 L46.4,226.0 L46.7,228.6 L47.1,223.7 L47.4,226.8 L47.7,225.1 L48.1,226.8 L48.4,227.9 L48.8,226.7 L49.1,228.0 L49.4,224.5 L49.8,228.6 L50.1,226.1 L50.5,228.0 L50.8,227.5 L51.1,223.4 L51.5,226.2 L51.8,227.7 L52.2,229.8 L52.5,227.9 L52.8,227.9 L53.2,225.5 L53.5,229.8 L53.9,230.4 L54.2,227.8 L54.5,227.5 L54.9,225.4 L55.2,229.2 L55.6,232.0 L55.9,229.1 L56.2,229.9 L56.3,228.1" fill="none" stroke="#b9b9b9" stroke-width="2.2" stroke-linejoin="round" stroke-linecap="round"/>
<line x1="56.3" y1="228.1" x2="56.3" y2="282.9" stroke="#b9b9b9" stroke-width="1.4"/>
<path d="M56.4,282.9 L56.6,280.4 L56.9,274.9 L57.3,275.5 L57.6,269.3 L58.0,269.0 L58.3,268.0 L58.6,267.3 L59.0,265.2 L59.3,263.8 L59.7,260.7 L60.0,258.5 L60.3,259.2 L60.7,256.8 L61.0,254.7 L61.4,253.6 L61.7,253.7 L62.0,250.7 L62.4,250.6 L62.7,250.0 L63.1,252.4 L63.4,252.5 L63.7,254.7 L64.1,249.2 L64.4,250.3 L64.8,252.4 L65.1,250.6 L65.4,250.2 L65.8,253.1 L66.1,249.8 L66.5,248.4 L66.8,248.0 L67.1,250.3 L67.5,250.1 L67.8,247.5 L68.2,247.9 L68.5,250.1 L68.8,250.0 L69.2,248.0 L69.5,249.8 L69.9,249.6 L70.2,246.0 L70.5,248.1 L70.9,249.0 L71.2,247.5 L71.6,245.0 L71.9,247.7 L72.2,249.1 L72.6,250.3 L72.9,244.5 L73.3,251.6 L73.6,245.9 L73.9,248.9 L74.3,249.3 L74.6,248.8 L75.0,247.5 L75.3,245.4 L75.6,248.0 L76.0,245.9 L76.3,243.1 L76.7,251.0 L77.0,247.8 L77.3,249.4 L77.7,245.2 L78.0,248.7 L78.4,248.8 L78.7,248.7 L79.0,246.2 L79.4,244.4 L79.7,245.9 L80.1,242.8 L80.4,243.4 L80.7,246.1 L81.1,244.4 L81.4,245.6 L81.8,245.6 L82.1,248.6 L82.4,247.6 L82.8,245.5 L83.1,247.3 L83.5,244.3 L83.8,244.9 L84.1,246.7 L84.5,243.4 L84.8,244.8 L85.2,243.2 L85.5,245.3 L85.8,247.5 L86.2,243.8 L86.5,245.3 L86.9,243.6 L87.2,243.2 L87.5,243.0 L87.9,247.0 L88.2,248.4 L88.6,245.5 L88.9,243.7 L89.2,245.8 L89.6,244.2 L89.9,245.9 L90.3,245.1 L90.6,245.1 L90.9,245.6 L91.3,243.8 L91.6,244.0 L92.0,242.0 L92.3,243.9 L92.6,242.4 L93.0,244.3 L93.3,243.1 L93.7,244.6 L94.0,245.2 L94.3,242.3 L94.7,243.2 L95.0,243.0 L95.4,245.5 L95.7,246.9 L96.0,245.6 L96.4,243.8 L96.7,246.5 L97.1,242.0 L97.4,246.5 L97.7,243.3 L98.1,240.1 L98.4,248.2 L98.8,246.6 L99.1,242.7 L99.4,244.4 L99.8,243.9 L100.1,244.3 L100.5,241.9 L100.8,243.1 L101.1,244.8 L101.5,244.4 L101.8,245.9 L102.2,244.2 L102.5,247.6 L102.8,243.0 L103.2,244.4 L103.5,241.1 L103.9,242.1 L104.2,246.0 L104.5,242.5 L104.9,244.7 L105.2,243.8 L105.6,242.4 L105.9,243.4 L106.2,243.1 L106.6,243.2 L106.9,245.0 L107.3,244.9 L107.6,243.0 L107.9,242.5 L108.3,244.3 L108.6,243.7 L109.0,245.4 L109.3,247.8 L109.6,245.1 L110.0,243.7 L110.3,243.5 L110.7,242.5 L111.0,242.4 L111.3,242.3 L111.7,243.2 L112.0,243.1 L112.4,244.8 L112.7,243.1 L113.0,243.4 L113.4,241.9 L113.7,246.2 L114.1,244.4 L114.4,246.4 L114.7,244.9 L115.1,245.9 L115.4,243.3 L115.8,244.7 L116.1,247.7 L116.4,241.8 L116.8,245.4 L117.1,246.1 L117.5,244.2 L117.8,244.7 L118.1,245.5 L118.5,242.6 L118.8,244.2 L119.2,242.2 L119.5,242.5 L119.8,242.6 L120.2,243.3 L120.5,243.7 L120.9,244.2 L121.2,241.3 L121.5,246.5 L121.9,245.3 L122.2,244.6 L122.6,242.9 L122.9,243.3 L123.2,244.3 L123.6,244.1 L123.9,240.9 L124.3,244.6 L124.6,247.9 L124.9,240.6 L125.3,245.0 L125.6,244.0 L126.0,243.2 L126.3,245.5 L126.6,241.6 L127.0,243.7 L127.3,245.7 L127.7,243.1 L128.0,242.8 L128.3,243.6 L128.7,242.7 L129.0,245.8 L129.4,242.0 L129.7,244.7 L130.0,241.5 L130.4,244.4 L130.7,243.2 L131.1,239.4 L131.4,243.4 L131.7,241.7 L132.1,242.7 L132.4,245.8 L132.8,241.7 L133.1,241.7 L133.4,245.6 L133.8,243.6 L134.1,245.8 L134.5,243.9 L134.8,242.0 L135.1,243.3 L135.5,245.3 L135.8,244.8 L136.2,243.4 L136.5,243.4 L136.8,243.2 L137.2,242.5 L137.5,246.3 L137.9,243.4 L138.2,241.6 L138.5,242.6 L138.9,244.5 L139.2,244.3 L139.6,243.1 L139.9,242.3 L140.2,243.4 L140.6,240.8 L140.9,241.3 L141.3,244.6 L141.6,242.6 L141.9,243.9 L142.3,245.2 L142.6,244.3 L143.0,243.4 L143.3,246.6 L143.6,244.4 L144.0,242.8 L144.3,244.5 L144.7,244.0 L145.0,242.0 L145.3,243.4 L145.7,243.1 L146.0,240.3 L146.4,243.1 L146.7,242.9 L147.0,242.6 L147.4,240.8 L147.7,242.8 L148.1,243.3 L148.4,243.5 L148.7,241.6 L149.1,244.3 L149.4,241.4 L149.8,243.0 L150.1,245.3 L150.4,242.2 L150.8,242.5 L151.1,245.0 L151.5,242.7 L151.8,242.8 L152.1,243.6 L152.5,244.9 L152.8,239.9 L153.2,242.0 L153.5,241.7 L153.8,241.6 L154.2,242.0 L154.5,242.0 L154.9,243.7 L155.2,241.9 L155.5,243.5 L155.9,243.9 L156.2,242.2 L156.6,243.5 L156.9,245.8 L157.2,243.8 L157.6,242.3 L157.9,243.2 L158.3,241.9 L158.6,243.7 L158.9,244.6 L159.3,242.0 L159.6,242.9 L160.0,245.0 L160.3,242.5 L160.6,243.6 L161.0,241.7 L161.3,242.0 L161.7,242.5 L162.0,246.5 L162.3,242.6 L162.7,242.5 L163.0,242.4 L163.4,243.0 L163.7,244.2 L164.0,243.5 L164.4,246.3 L164.7,243.6 L165.1,245.4 L165.4,243.7 L165.7,244.2 L166.1,241.1 L166.4,243.1 L166.8,243.1 L167.1,242.9 L167.4,240.0 L167.8,244.6 L168.1,242.7 L168.5,242.6 L168.8,242.9 L169.1,242.9 L169.5,243.8 L169.8,241.3 L170.2,241.8 L170.5,243.7 L170.8,243.4 L171.2,242.7 L171.5,242.4 L171.9,242.0 L172.2,243.1 L172.5,245.0 L172.9,241.6 L173.2,245.5 L173.6,244.5 L173.9,242.5 L174.2,244.4 L174.6,241.0 L174.9,240.6 L175.3,241.3 L175.6,242.6 L175.9,242.7 L176.3,242.4 L176.6,243.4 L177.0,240.0 L177.3,244.0 L177.6,241.1 L178.0,242.2 L178.3,242.6 L178.7,241.5 L179.0,241.2 L179.3,241.7 L179.7,243.2 L180.0,244.1 L180.4,244.1 L180.7,241.7 L181.0,242.0 L181.4,241.8 L181.7,243.9 L182.1,240.2 L182.4,245.1 L182.7,242.5 L183.1,242.0 L183.4,243.7 L183.8,244.8 L184.1,243.7 L184.4,244.8 L184.8,243.4 L185.1,245.1 L185.5,245.1 L185.8,243.1 L186.1,245.4 L186.5,243.5 L186.8,243.3 L187.2,241.8 L187.5,242.8 L187.8,244.4 L188.2,241.2 L188.5,244.2 L188.9,243.7 L189.2,243.6 L189.5,239.9 L189.9,243.1 L190.2,244.2 L190.6,242.1 L190.9,243.3 L191.2,239.6 L191.6,244.2 L191.9,242.2 L192.3,244.5 L192.6,240.4 L192.9,244.2 L193.3,242.9 L193.6,244.4 L194.0,241.8 L194.3,242.3 L194.6,246.6 L195.0,242.0 L195.3,242.2 L195.7,242.8 L196.0,241.7 L196.3,245.0 L196.7,245.8 L197.0,242.2 L197.4,240.6 L197.7,245.0 L198.0,244.9 L198.4,244.4 L198.7,244.9 L199.1,241.9 L199.4,243.0 L199.7,241.1 L200.1,241.1 L200.4,244.7 L200.8,242.2 L201.1,246.6 L201.4,243.3 L201.8,242.3 L202.1,244.4 L202.5,245.9 L202.8,243.9 L203.1,241.4 L203.5,243.8 L203.8,245.3 L204.2,242.5 L204.5,242.1 L204.8,244.7 L205.2,243.4 L205.5,241.6 L205.9,242.6 L206.2,242.1 L206.5,243.7 L206.9,243.4 L207.2,244.9 L207.6,244.3 L207.9,240.9 L208.2,243.8 L208.6,244.6 L208.9,243.9 L209.3,244.8 L209.6,242.4 L209.9,241.8 L210.3,244.6 L210.6,241.6 L211.0,240.0 L211.3,244.7 L211.6,242.1 L212.0,242.8 L212.3,241.1 L212.7,241.2 L213.0,241.5 L213.3,242.7 L213.7,243.8 L214.0,239.8 L214.4,244.3 L214.7,241.4 L215.0,241.6 L215.4,244.2 L215.7,243.1 L216.1,240.9 L216.4,246.0 L216.7,241.9 L217.1,243.6 L217.4,243.5 L217.8,245.3 L218.1,242.5 L218.4,244.7 L218.8,242.1 L219.1,244.9 L219.5,242.1 L219.8,242.7 L220.1,246.1 L220.5,243.7 L220.8,243.4 L221.2,246.6 L221.5,243.8 L221.8,242.0 L222.2,244.3 L222.5,241.4 L222.9,244.9 L223.2,245.0 L223.5,242.4 L223.9,242.3 L224.2,243.5 L224.6,243.2 L224.9,241.7 L225.2,244.1 L225.6,240.1 L225.9,242.6 L226.3,242.6 L226.6,242.8 L226.9,243.7 L227.3,241.4 L227.6,244.1 L228.0,242.9 L228.3,242.2 L228.6,241.2 L229.0,241.4 L229.3,243.8 L229.7,241.8 L230.0,243.3 L230.3,244.8 L230.7,244.8 L231.0,245.6 L231.4,242.8 L231.7,241.6 L232.0,244.7 L232.4,243.7 L232.7,244.9 L233.1,243.2 L233.4,245.0 L233.7,244.5 L234.1,244.3 L234.4,244.0 L234.8,243.8 L235.1,243.6 L235.4,243.5 L235.8,244.7 L236.1,242.4 L236.5,245.8 L236.8,243.1 L237.1,244.7 L237.5,243.1 L237.8,242.8 L238.2,246.3 L238.5,242.7 L238.8,241.3 L239.2,242.1 L239.5,242.7 L239.9,246.4 L240.2,243.5 L240.5,244.6 L240.9,241.7 L241.2,243.7 L241.6,244.2 L241.9,245.9 L242.2,242.2 L242.6,244.1 L242.9,243.7 L243.3,241.7 L243.6,243.2 L243.9,242.8 L244.3,239.7 L244.6,244.1 L245.0,244.0 L245.3,242.6 L245.6,241.2 L246.0,245.4 L246.3,243.6 L246.7,244.7 L247.0,245.3 L247.3,242.4 L247.7,244.4 L248.0,242.8 L248.4,243.1 L248.7,243.1 L249.0,243.2 L249.4,244.9 L249.7,243.4 L250.1,243.0 L250.4,242.8 L250.7,243.7 L251.1,241.9 L251.4,242.5 L251.8,243.1 L252.1,242.4 L252.4,243.0 L252.8,242.3 L253.1,246.2 L253.5,245.2 L253.8,243.9 L254.1,243.1 L254.5,246.5 L254.8,243.7 L255.2,243.1 L255.5,243.7" fill="none" stroke="#b9b9b9" stroke-width="2.2" stroke-linejoin="round" stroke-linecap="butt"/>
<path d="M38.6,218.5 L38.9,220.0 L39.2,219.7 L39.6,221.9 L39.9,220.2 L40.3,221.9 L40.6,221.1 L40.9,223.6 L41.3,222.4 L41.6,223.0 L42.0,224.1 L42.3,224.6 L42.6,223.2 L43.0,224.0 L43.3,223.4 L43.7,224.8 L44.0,224.9 L44.3,224.9 L44.7,224.8 L45.0,225.2 L45.4,225.1 L45.7,226.2 L46.0,227.0 L46.4,224.6 L46.7,226.1 L47.1,225.9 L47.4,226.7 L47.7,225.8 L48.1,226.5 L48.4,225.9 L48.8,227.3 L49.1,226.9 L49.4,226.8 L49.8,227.2 L50.1,226.9 L50.5,225.9 L50.8,227.6 L51.1,227.5 L51.5,227.2 L51.8,228.1 L52.2,228.3 L52.5,226.7 L52.8,227.0 L53.2,228.8 L53.5,228.7 L53.9,227.1 L54.2,226.9 L54.5,227.3 L54.9,227.5 L55.2,226.7 L55.6,228.0 L55.9,227.0 L56.2,227.1 L56.3,228.1" fill="none" stroke="#1c1c1c" stroke-width="2.9" stroke-linejoin="round" stroke-linecap="round"/>
<line x1="56.3" y1="228.1" x2="56.3" y2="337.6" stroke="#1c1c1c" stroke-width="1.4"/>
<path d="M56.4,296.0 L56.6,295.2 L56.9,292.4 L57.3,291.0 L57.6,290.0 L58.0,288.7 L58.3,286.4 L58.6,285.3 L59.0,283.4 L59.3,284.1 L59.7,282.1 L60.0,279.8 L60.3,279.6 L60.7,279.2 L61.0,278.1 L61.4,278.4 L61.7,277.4 L62.0,275.3 L62.4,275.0 L62.7,273.5 L63.1,274.1 L63.4,273.5 L63.7,274.9 L64.1,272.4 L64.4,270.3 L64.8,270.9 L65.1,271.0 L65.4,269.5 L65.8,269.4 L66.1,269.4 L66.5,269.5 L66.8,268.8 L67.1,267.9 L67.5,268.8 L67.8,267.5 L68.2,267.2 L68.5,266.2 L68.8,266.3 L69.2,267.1 L69.5,265.1 L69.9,266.0 L70.2,266.3 L70.5,265.2 L70.9,265.4 L71.2,264.1 L71.6,265.7 L71.9,265.2 L72.2,264.3 L72.6,262.6 L72.9,262.9 L73.3,264.2 L73.6,264.5 L73.9,263.2 L74.3,263.7 L74.6,262.1 L75.0,262.2 L75.3,262.1 L75.6,262.3 L76.0,260.6 L76.3,262.3 L76.7,262.4 L77.0,260.4 L77.3,260.1 L77.7,261.2 L78.0,260.3 L78.4,258.8 L78.7,261.0 L79.0,260.4 L79.4,259.8 L79.7,261.6 L80.1,259.9 L80.4,259.1 L80.7,259.6 L81.1,258.6 L81.4,258.7 L81.8,259.4 L82.1,258.6 L82.4,258.5 L82.8,260.0 L83.1,259.2 L83.5,259.0 L83.8,258.7 L84.1,258.6 L84.5,259.2 L84.8,257.9 L85.2,259.2 L85.5,257.0 L85.8,257.4 L86.2,256.4 L86.5,257.1 L86.9,257.6 L87.2,258.2 L87.5,256.5 L87.9,256.8 L88.2,256.5 L88.6,256.1 L88.9,255.6 L89.2,256.4 L89.6,255.0 L89.9,256.2 L90.3,256.1 L90.6,255.4 L90.9,255.1 L91.3,254.7 L91.6,257.0 L92.0,254.5 L92.3,256.6 L92.6,255.7 L93.0,254.9 L93.3,254.2 L93.7,255.8 L94.0,256.2 L94.3,254.1 L94.7,254.5 L95.0,255.4 L95.4,254.7 L95.7,255.9 L96.0,253.9 L96.4,254.6 L96.7,253.2 L97.1,255.6 L97.4,253.3 L97.7,252.1 L98.1,253.6 L98.4,253.5 L98.8,254.9 L99.1,253.1 L99.4,253.3 L99.8,253.7 L100.1,254.3 L100.5,253.0 L100.8,253.7 L101.1,253.2 L101.5,252.5 L101.8,252.7 L102.2,252.6 L102.5,251.8 L102.8,253.3 L103.2,251.3 L103.5,253.1 L103.9,252.8 L104.2,252.0 L104.5,251.4 L104.9,251.7 L105.2,252.2 L105.6,252.3 L105.9,251.9 L106.2,252.3 L106.6,251.1 L106.9,251.6 L107.3,250.2 L107.6,251.9 L107.9,251.4 L108.3,250.9 L108.6,252.0 L109.0,251.6 L109.3,248.9 L109.6,250.9 L110.0,249.7 L110.3,251.6 L110.7,252.6 L111.0,250.3 L111.3,250.6 L111.7,250.3 L112.0,250.7 L112.4,250.9 L112.7,251.3 L113.0,249.5 L113.4,251.4 L113.7,249.4 L114.1,250.3 L114.4,250.9 L114.7,250.5 L115.1,249.2 L115.4,249.3 L115.8,249.4 L116.1,249.7 L116.4,250.5 L116.8,248.6 L117.1,249.9 L117.5,249.9 L117.8,249.8 L118.1,249.7 L118.5,250.4 L118.8,249.6 L119.2,249.8 L119.5,249.5 L119.8,250.4 L120.2,247.6 L120.5,249.9 L120.9,248.7 L121.2,248.6 L121.5,248.0 L121.9,247.3 L122.2,248.4 L122.6,248.1 L122.9,248.9 L123.2,247.4 L123.6,249.5 L123.9,248.6 L124.3,248.1 L124.6,247.8 L124.9,247.7 L125.3,247.3 L125.6,247.7 L126.0,248.1 L126.3,247.9 L126.6,247.0 L127.0,247.8 L127.3,247.3 L127.7,248.0 L128.0,249.3 L128.3,248.3 L128.7,247.5 L129.0,246.5 L129.4,246.6 L129.7,246.4 L130.0,248.1 L130.4,247.0 L130.7,247.6 L131.1,247.0 L131.4,247.5 L131.7,248.5 L132.1,246.8 L132.4,247.1 L132.8,246.7 L133.1,247.9 L133.4,246.4 L133.8,246.3 L134.1,246.1 L134.5,246.0 L134.8,247.4 L135.1,248.9 L135.5,246.2 L135.8,247.6 L136.2,247.1 L136.5,246.0 L136.8,246.6 L137.2,246.6 L137.5,246.2 L137.9,248.2 L138.2,245.2 L138.5,246.9 L138.9,246.8 L139.2,246.1 L139.6,246.6 L139.9,247.1 L140.2,246.6 L140.6,246.7 L140.9,246.9 L141.3,244.8 L141.6,247.4 L141.9,248.0 L142.3,247.0 L142.6,247.0 L143.0,245.1 L143.3,246.0 L143.6,245.5 L144.0,245.6 L144.3,246.8 L144.7,245.4 L145.0,245.9 L145.3,244.5 L145.7,245.8 L146.0,246.0 L146.4,245.3 L146.7,245.3 L147.0,247.2 L147.4,244.9 L147.7,245.0 L148.1,245.1 L148.4,246.6 L148.7,247.2 L149.1,245.9 L149.4,245.1 L149.8,245.3 L150.1,246.4 L150.4,244.8 L150.8,246.6 L151.1,246.5 L151.5,245.5 L151.8,245.9 L152.1,246.0 L152.5,246.5 L152.8,244.6 L153.2,246.2 L153.5,245.0 L153.8,244.7 L154.2,245.3 L154.5,245.1 L154.9,244.5 L155.2,244.0 L155.5,244.4 L155.9,246.2 L156.2,246.6 L156.6,245.6 L156.9,245.9 L157.2,244.6 L157.6,244.9 L157.9,245.2 L158.3,244.1 L158.6,244.2 L158.9,245.0 L159.3,244.6 L159.6,244.0 L160.0,245.1 L160.3,244.6 L160.6,245.5 L161.0,244.7 L161.3,244.5 L161.7,244.8 L162.0,244.5 L162.3,244.1 L162.7,244.3 L163.0,245.2 L163.4,245.1 L163.7,245.5 L164.0,243.3 L164.4,244.2 L164.7,244.2 L165.1,244.6 L165.4,244.1 L165.7,244.0 L166.1,245.0 L166.4,244.5 L166.8,243.5 L167.1,245.3 L167.4,245.0 L167.8,243.8 L168.1,244.9 L168.5,243.7 L168.8,245.1 L169.1,244.0 L169.5,243.6 L169.8,243.9 L170.2,243.5 L170.5,244.2 L170.8,244.2 L171.2,244.1 L171.5,243.6 L171.9,241.3 L172.2,244.1 L172.5,242.5 L172.9,244.1 L173.2,244.8 L173.6,244.1 L173.9,243.6 L174.2,243.7 L174.6,243.7 L174.9,243.4 L175.3,243.4 L175.6,243.1 L175.9,244.6 L176.3,243.7 L176.6,244.5 L177.0,243.5 L177.3,243.8 L177.6,243.6 L178.0,244.0 L178.3,244.3 L178.7,243.9 L179.0,243.2 L179.3,243.1 L179.7,244.9 L180.0,243.4 L180.4,243.4 L180.7,244.7 L181.0,244.4 L181.4,244.0 L181.7,243.3 L182.1,245.4 L182.4,243.9 L182.7,244.0 L183.1,243.4 L183.4,242.5 L183.8,242.5 L184.1,243.8 L184.4,243.8 L184.8,243.3 L185.1,242.6 L185.5,242.4 L185.8,243.2 L186.1,242.4 L186.5,244.1 L186.8,244.3 L187.2,245.6 L187.5,244.1 L187.8,243.0 L188.2,242.8 L188.5,240.8 L188.9,243.0 L189.2,243.3 L189.5,244.1 L189.9,243.8 L190.2,243.8 L190.6,243.5 L190.9,243.8 L191.2,244.4 L191.6,242.5 L191.9,243.0 L192.3,242.3 L192.6,244.5 L192.9,244.3 L193.3,243.9 L193.6,242.4 L194.0,243.4 L194.3,243.1 L194.6,243.3 L195.0,243.1 L195.3,243.6 L195.7,242.9 L196.0,243.9 L196.3,243.4 L196.7,243.0 L197.0,243.1 L197.4,242.9 L197.7,243.8 L198.0,243.0 L198.4,243.4 L198.7,242.9 L199.1,242.0 L199.4,243.8 L199.7,242.3 L200.1,243.6 L200.4,243.4 L200.8,241.9 L201.1,242.4 L201.4,242.7 L201.8,242.5 L202.1,242.2 L202.5,243.6 L202.8,242.9 L203.1,243.3 L203.5,242.7 L203.8,243.3 L204.2,242.5 L204.5,243.0 L204.8,243.5 L205.2,243.0 L205.5,242.7 L205.9,242.2 L206.2,243.1 L206.5,243.2 L206.9,242.8 L207.2,242.4 L207.6,243.4 L207.9,244.8 L208.2,242.7 L208.6,243.2 L208.9,243.2 L209.3,241.0 L209.6,243.0 L209.9,242.4 L210.3,243.9 L210.6,242.7 L211.0,242.3 L211.3,242.7 L211.6,243.0 L212.0,242.4 L212.3,242.8 L212.7,241.8 L213.0,242.7 L213.3,243.4 L213.7,244.3 L214.0,243.3 L214.4,243.0 L214.7,243.7 L215.0,243.6 L215.4,244.0 L215.7,243.6 L216.1,242.7 L216.4,243.0 L216.7,242.9 L217.1,243.0 L217.4,242.9 L217.8,242.2 L218.1,241.2 L218.4,242.3 L218.8,241.2 L219.1,242.8 L219.5,242.8 L219.8,241.5 L220.1,243.3 L220.5,243.4 L220.8,242.8 L221.2,244.0 L221.5,244.1 L221.8,241.8 L222.2,243.5 L222.5,243.1 L222.9,243.0 L223.2,243.4 L223.5,242.2 L223.9,242.3 L224.2,242.1 L224.6,242.2 L224.9,242.6 L225.2,241.6 L225.6,241.9 L225.9,243.1 L226.3,242.7 L226.6,243.0 L226.9,241.3 L227.3,242.1 L227.6,242.3 L228.0,242.7 L228.3,242.3 L228.6,243.4 L229.0,242.7 L229.3,242.7 L229.7,242.7 L230.0,243.2 L230.3,242.3 L230.7,243.5 L231.0,243.0 L231.4,242.8 L231.7,242.7 L232.0,243.1 L232.4,243.4 L232.7,243.4 L233.1,243.0 L233.4,243.3 L233.7,242.8 L234.1,243.6 L234.4,242.6 L234.8,241.1 L235.1,243.7 L235.4,242.7 L235.8,241.8 L236.1,242.5 L236.5,242.0 L236.8,244.2 L237.1,243.0 L237.5,241.5 L237.8,243.1 L238.2,242.3 L238.5,244.1 L238.8,241.9 L239.2,241.0 L239.5,242.7 L239.9,242.4 L240.2,242.3 L240.5,241.0 L240.9,242.9 L241.2,243.9 L241.6,241.2 L241.9,243.5 L242.2,242.2 L242.6,244.4 L242.9,242.9 L243.3,242.5 L243.6,243.4 L243.9,243.0 L244.3,242.2 L244.6,243.1 L245.0,242.2 L245.3,241.3 L245.6,244.1 L246.0,242.3 L246.3,242.1 L246.7,242.9 L247.0,241.4 L247.3,241.6 L247.7,242.2 L248.0,242.2 L248.4,242.6 L248.7,243.4 L249.0,242.2 L249.4,243.0 L249.7,243.0 L250.1,241.8 L250.4,242.8 L250.7,241.9 L251.1,243.4 L251.4,242.9 L251.8,242.6 L252.1,241.6 L252.4,242.7 L252.8,242.0 L253.1,243.1 L253.5,242.5 L253.8,242.0 L254.1,243.3 L254.5,243.1 L254.8,242.1 L255.2,243.4 L255.5,242.3" fill="none" stroke="#1c1c1c" stroke-width="2.6" stroke-linejoin="round" stroke-linecap="butt"/>
<line x1="33.2" y1="337.6" x2="36" y2="337.6" stroke="#000" stroke-width="1.7"/><text class="tk" text-anchor="end" transform="translate(29.30,341.60) scale(0.96,1)">0</text><line x1="33.2" y1="315.7" x2="36" y2="315.7" stroke="#000" stroke-width="1.7"/><text class="tk" text-anchor="end" transform="translate(29.30,319.70) scale(0.96,1)">0.2</text><line x1="33.2" y1="293.8" x2="36" y2="293.8" stroke="#000" stroke-width="1.7"/><text class="tk" text-anchor="end" transform="translate(29.30,297.80) scale(0.96,1)">0.4</text><line x1="33.2" y1="271.9" x2="36" y2="271.9" stroke="#000" stroke-width="1.7"/><text class="tk" text-anchor="end" transform="translate(29.30,275.90) scale(0.96,1)">0.6</text><line x1="33.2" y1="250.0" x2="36" y2="250.0" stroke="#000" stroke-width="1.7"/><text class="tk" text-anchor="end" transform="translate(29.30,254.00) scale(0.96,1)">0.8</text><line x1="33.2" y1="228.1" x2="36" y2="228.1" stroke="#000" stroke-width="1.7"/><text class="tk" text-anchor="end" transform="translate(29.30,232.10) scale(0.96,1)">1</text><line x1="33.2" y1="206.2" x2="36" y2="206.2" stroke="#000" stroke-width="1.7"/><text class="tk" text-anchor="end" transform="translate(29.30,210.20) scale(0.96,1)">1.2</text><line x1="36.4" y1="337.6" x2="36.4" y2="340.8" stroke="#000" stroke-width="1.7"/><text class="tx" text-anchor="middle" transform="translate(35.17,354.10) scale(0.98,1)">–5</text><line x1="56.3" y1="337.6" x2="56.3" y2="340.8" stroke="#000" stroke-width="1.7"/><text class="tx" text-anchor="middle" transform="translate(56.30,354.10) scale(0.98,1)">0</text><line x1="76.2" y1="337.6" x2="76.2" y2="340.8" stroke="#000" stroke-width="1.7"/><text class="tx" text-anchor="middle" transform="translate(76.22,354.10) scale(0.98,1)">5</text><line x1="96.2" y1="337.6" x2="96.2" y2="340.8" stroke="#000" stroke-width="1.7"/><text class="tx" text-anchor="middle" transform="translate(96.15,354.10) scale(0.98,1)">10</text><line x1="116.1" y1="337.6" x2="116.1" y2="340.8" stroke="#000" stroke-width="1.7"/><text class="tx" text-anchor="middle" transform="translate(116.07,354.10) scale(0.98,1)">15</text><line x1="136.0" y1="337.6" x2="136.0" y2="340.8" stroke="#000" stroke-width="1.7"/><text class="tx" text-anchor="middle" transform="translate(136.00,354.10) scale(0.98,1)">20</text><line x1="155.9" y1="337.6" x2="155.9" y2="340.8" stroke="#000" stroke-width="1.7"/><text class="tx" text-anchor="middle" transform="translate(155.93,354.10) scale(0.98,1)">25</text><line x1="175.8" y1="337.6" x2="175.8" y2="340.8" stroke="#000" stroke-width="1.7"/><text class="tx" text-anchor="middle" transform="translate(175.85,354.10) scale(0.98,1)">30</text><line x1="195.8" y1="337.6" x2="195.8" y2="340.8" stroke="#000" stroke-width="1.7"/><text class="tx" text-anchor="middle" transform="translate(195.77,354.10) scale(0.98,1)">35</text><line x1="215.7" y1="337.6" x2="215.7" y2="340.8" stroke="#000" stroke-width="1.7"/><text class="tx" text-anchor="middle" transform="translate(215.70,354.10) scale(0.98,1)">40</text><line x1="235.6" y1="337.6" x2="235.6" y2="340.8" stroke="#000" stroke-width="1.7"/><text class="tx" text-anchor="middle" transform="translate(235.62,354.10) scale(0.98,1)">45</text><line x1="255.6" y1="337.6" x2="255.6" y2="340.8" stroke="#000" stroke-width="1.7"/><text class="tx" text-anchor="middle" transform="translate(255.55,354.10) scale(0.98,1)">50</text>
<path d="M36,206.2 V337.6 H255.6" fill="none" stroke="#000" stroke-width="2" stroke-linecap="square"/>
<text class="ay" text-anchor="middle" transform="translate(10.60,270.60) rotate(-90) scale(0.915,1)">Rel. fluorescence</text>
<text class="ax" transform="translate(125.80,369.30) scale(0.9,1)">Time [s]</text>
<text class="pl" transform="translate(1.90,373.40)">c</text>
<line x1="150" y1="290.3" x2="165.2" y2="290.3" stroke="#111" stroke-width="1.9"/><text class="lg" transform="translate(168.30,293.80) scale(0.945,1)">AR wt</text><line x1="150" y1="303.9" x2="165.2" y2="303.9" stroke="#999" stroke-width="1.9"/><text class="lg" transform="translate(168.30,307.40) scale(0.945,1)">AR (A573D)</text>
<path d="M116.3,228.3 C120,228.3 120.3,229 120.3,231.5 C120.3,234 120.8,235.6 123.6,235.8 C120.8,236 120.3,237.5 120.3,240 C120.3,242.6 120,243.4 116.3,243.4" fill="none" stroke="#111" stroke-width="1.6"/><line x1="123.6" y1="235.8" x2="172.7" y2="221.5" stroke="#111" stroke-width="1.2"/>
<text class="an" text-anchor="middle" transform="translate(187.20,208.40)">Permanently bleached fraction</text><text class="an" text-anchor="middle" transform="translate(187.30,219.50)">because of bleachpulse</text>
<path d="M309.5,218.0 L309.9,219.0 L310.2,218.1 L310.5,219.0 L310.9,219.8 L311.2,222.6 L311.6,222.9 L311.9,220.6 L312.2,223.7 L312.6,221.4 L312.9,222.3 L313.3,223.3 L313.6,222.7 L313.9,226.1 L314.3,223.0 L314.6,221.0 L315.0,225.0 L315.3,222.6 L315.6,222.9 L316.0,219.0 L316.3,225.1 L316.7,225.0 L317.0,225.1 L317.3,225.5 L317.7,226.7 L318.0,224.2 L318.4,225.8 L318.7,223.4 L319.0,224.1 L319.4,226.3 L319.7,225.4 L320.1,222.9 L320.4,225.5 L320.7,224.8 L321.1,223.9 L321.4,225.9 L321.8,224.7 L322.1,223.0 L322.4,223.7 L322.8,228.1 L323.1,223.3 L323.5,225.9 L323.8,226.6 L324.1,226.7 L324.5,224.0 L324.8,225.4 L325.2,226.1 L325.5,227.2 L325.8,225.0 L326.2,224.3 L326.5,227.6 L326.9,227.8 L327.2,226.8 L327.3,226.4" fill="none" stroke="#b9b9b9" stroke-width="2.2" stroke-linejoin="round" stroke-linecap="round"/>
<line x1="327.3" y1="226.4" x2="327.3" y2="281.4" stroke="#b9b9b9" stroke-width="1.4"/>
<path d="M327.4,281.4 L327.6,277.1 L327.9,275.3 L328.3,272.0 L328.6,270.5 L329.0,265.0 L329.3,264.8 L329.6,262.4 L330.0,259.2 L330.3,259.8 L330.7,258.3 L331.0,256.6 L331.3,256.8 L331.7,253.1 L332.0,254.2 L332.4,254.1 L332.7,253.0 L333.0,253.4 L333.4,249.2 L333.7,248.1 L334.1,250.5 L334.4,250.7 L334.7,253.0 L335.1,250.5 L335.4,248.1 L335.8,250.5 L336.1,247.9 L336.4,246.7 L336.8,252.7 L337.1,249.2 L337.5,249.6 L337.8,249.2 L338.1,251.0 L338.5,248.6 L338.8,249.8 L339.2,246.3 L339.5,245.7 L339.8,249.8 L340.2,249.7 L340.5,248.2 L340.9,247.6 L341.2,247.4 L341.5,246.1 L341.9,249.3 L342.2,247.9 L342.6,247.5 L342.9,247.3 L343.2,248.2 L343.6,247.3 L343.9,247.6 L344.3,244.6 L344.6,247.1 L344.9,249.5 L345.3,245.4 L345.6,245.9 L346.0,247.4 L346.3,247.4 L346.6,246.8 L347.0,243.4 L347.3,246.5 L347.7,243.9 L348.0,244.4 L348.3,246.4 L348.7,245.1 L349.0,246.7 L349.4,250.1 L349.7,246.5 L350.0,246.4 L350.4,243.9 L350.7,244.2 L351.1,243.5 L351.4,244.3 L351.7,243.4 L352.1,244.0 L352.4,244.6 L352.8,243.4 L353.1,242.7 L353.4,242.7 L353.8,245.4 L354.1,244.7 L354.5,246.1 L354.8,246.1 L355.1,244.0 L355.5,245.5 L355.8,242.3 L356.2,247.9 L356.5,246.2 L356.8,244.1 L357.2,242.6 L357.5,244.9 L357.9,241.5 L358.2,243.2 L358.5,245.4 L358.9,244.4 L359.2,243.5 L359.6,245.7 L359.9,242.7 L360.2,244.6 L360.6,243.4 L360.9,242.9 L361.3,244.8 L361.6,242.6 L361.9,246.9 L362.3,243.2 L362.6,247.0 L363.0,242.4 L363.3,244.9 L363.6,242.2 L364.0,242.0 L364.3,244.2 L364.7,245.0 L365.0,242.0 L365.3,245.7 L365.7,242.7 L366.0,244.1 L366.4,244.4 L366.7,244.7 L367.0,241.1 L367.4,246.2 L367.7,244.6 L368.1,243.1 L368.4,242.2 L368.7,241.2 L369.1,241.7 L369.4,244.5 L369.8,243.2 L370.1,242.0 L370.4,242.9 L370.8,246.0 L371.1,243.2 L371.5,242.8 L371.8,245.7 L372.1,244.3 L372.5,243.7 L372.8,242.7 L373.2,241.3 L373.5,241.8 L373.8,242.8 L374.2,243.2 L374.5,244.1 L374.9,244.4 L375.2,243.9 L375.5,243.8 L375.9,242.0 L376.2,240.3 L376.6,242.7 L376.9,242.0 L377.2,242.5 L377.6,243.0 L377.9,241.6 L378.3,241.8 L378.6,243.3 L378.9,243.6 L379.3,242.4 L379.6,244.1 L380.0,243.1 L380.3,241.8 L380.6,243.4 L381.0,246.2 L381.3,242.3 L381.7,245.1 L382.0,245.4 L382.3,245.6 L382.7,242.1 L383.0,246.3 L383.4,243.5 L383.7,242.9 L384.0,242.9 L384.4,244.2 L384.7,243.3 L385.1,243.0 L385.4,245.2 L385.7,242.1 L386.1,241.6 L386.4,244.4 L386.8,244.3 L387.1,244.8 L387.4,241.6 L387.8,244.8 L388.1,243.9 L388.5,245.8 L388.8,241.3 L389.1,243.5 L389.5,242.7 L389.8,240.7 L390.2,242.0 L390.5,244.8 L390.8,242.4 L391.2,242.0 L391.5,244.4 L391.9,244.6 L392.2,244.5 L392.5,241.9 L392.9,243.0 L393.2,244.6 L393.6,242.0 L393.9,241.9 L394.2,244.3 L394.6,245.4 L394.9,241.3 L395.3,239.1 L395.6,240.8 L395.9,241.5 L396.3,242.8 L396.6,243.9 L397.0,242.7 L397.3,241.9 L397.6,243.2 L398.0,241.5 L398.3,242.9 L398.7,242.0 L399.0,246.9 L399.3,244.1 L399.7,241.6 L400.0,241.4 L400.4,242.2 L400.7,240.4 L401.0,241.8 L401.4,241.7 L401.7,244.2 L402.1,242.2 L402.4,241.6 L402.7,240.8 L403.1,241.1 L403.4,242.7 L403.8,242.5 L404.1,244.5 L404.4,241.9 L404.8,244.4 L405.1,243.2 L405.5,242.8 L405.8,239.8 L406.1,240.8 L406.5,243.9 L406.8,244.8 L407.2,243.0 L407.5,243.9 L407.8,242.1 L408.2,242.2 L408.5,241.7 L408.9,244.2 L409.2,243.2 L409.5,242.3 L409.9,242.2 L410.2,243.5 L410.6,243.2 L410.9,241.4 L411.2,245.2 L411.6,243.0 L411.9,242.7 L412.3,244.9 L412.6,244.2 L412.9,242.5 L413.3,243.4 L413.6,241.0 L414.0,241.7 L414.3,239.2 L414.6,244.4 L415.0,239.7 L415.3,243.6 L415.7,241.3 L416.0,241.1 L416.3,242.3 L416.7,243.0 L417.0,243.5 L417.4,245.2 L417.7,243.1 L418.0,243.9 L418.4,241.6 L418.7,243.6 L419.1,242.8 L419.4,241.8 L419.7,242.4 L420.1,242.4 L420.4,242.8 L420.8,243.1 L421.1,241.7 L421.4,241.4 L421.8,243.6 L422.1,239.9 L422.5,241.5 L422.8,244.8 L423.1,238.4 L423.5,241.4 L423.8,243.5 L424.2,240.0 L424.5,246.3 L424.8,238.5 L425.2,244.6 L425.5,244.8 L425.9,243.8 L426.2,242.1 L426.5,242.9 L426.9,241.0 L427.2,243.6 L427.6,240.7 L427.9,242.0 L428.2,243.9 L428.6,240.7 L428.9,241.8 L429.3,242.6 L429.6,240.3 L429.9,244.1 L430.3,242.9 L430.6,240.1 L431.0,242.3 L431.3,241.2 L431.6,241.3 L432.0,242.4 L432.3,241.3 L432.7,243.8 L433.0,241.3 L433.3,243.8 L433.7,242.2 L434.0,243.6 L434.4,241.5 L434.7,241.5 L435.0,240.6 L435.4,243.1 L435.7,243.7 L436.1,245.4 L436.4,244.2 L436.7,242.6 L437.1,241.9 L437.4,242.8 L437.8,242.2 L438.1,244.4 L438.4,243.7 L438.8,241.0 L439.1,241.2 L439.5,244.3 L439.8,242.7 L440.1,241.9 L440.5,244.0 L440.8,241.6 L441.2,241.8 L441.5,241.5 L441.8,239.3 L442.2,243.5 L442.5,240.4 L442.9,241.3 L443.2,241.1 L443.5,243.3 L443.9,242.1 L444.2,242.2 L444.6,239.6 L444.9,242.0 L445.2,239.9 L445.6,242.6 L445.9,242.7 L446.3,242.1 L446.6,245.2 L446.9,242.9 L447.3,243.0 L447.6,242.3 L448.0,241.8 L448.3,243.6 L448.6,243.8 L449.0,240.2 L449.3,243.7 L449.7,242.9 L450.0,243.5 L450.3,242.8 L450.7,240.2 L451.0,240.3 L451.4,244.8 L451.7,242.5 L452.0,240.0 L452.4,242.6 L452.7,241.5 L453.1,239.3 L453.4,238.6 L453.7,239.7 L454.1,242.5 L454.4,242.0 L454.8,241.7 L455.1,242.5 L455.4,242.9 L455.8,238.9 L456.1,241.6 L456.5,240.8 L456.8,240.2 L457.1,241.2 L457.5,241.8 L457.8,241.6 L458.2,239.8 L458.5,241.3 L458.8,245.0 L459.2,240.4 L459.5,239.5 L459.9,242.4 L460.2,242.9 L460.5,242.7 L460.9,240.3 L461.2,243.5 L461.6,240.8 L461.9,240.3 L462.2,241.1 L462.6,241.8 L462.9,243.0 L463.3,242.9 L463.6,241.9 L463.9,243.4 L464.3,242.1 L464.6,243.3 L465.0,239.8 L465.3,239.6 L465.6,243.1 L466.0,239.8 L466.3,241.5 L466.7,241.8 L467.0,241.2 L467.3,241.2 L467.7,244.0 L468.0,238.1 L468.4,243.3 L468.7,245.4 L469.0,242.0 L469.4,241.9 L469.7,243.1 L470.1,244.7 L470.4,240.2 L470.7,242.1 L471.1,241.7 L471.4,242.8 L471.8,242.2 L472.1,243.0 L472.4,241.4 L472.8,242.1 L473.1,241.0 L473.5,241.0 L473.8,241.8 L474.1,241.8 L474.5,240.3 L474.8,244.4 L475.2,241.9 L475.5,240.0 L475.8,243.7 L476.2,241.0 L476.5,242.9 L476.9,242.1 L477.2,242.5 L477.5,242.4 L477.9,241.3 L478.2,242.2 L478.6,245.2 L478.9,238.8 L479.2,242.2 L479.6,242.8 L479.9,240.6 L480.3,240.1 L480.6,245.4 L480.9,241.6 L481.3,245.3 L481.6,243.0 L482.0,242.3 L482.3,242.9 L482.6,243.1 L483.0,244.0 L483.3,242.9 L483.7,242.4 L484.0,242.5 L484.3,244.3 L484.7,243.5 L485.0,240.7 L485.4,241.3 L485.7,242.7 L486.0,241.3 L486.4,241.7 L486.7,240.8 L487.1,241.9 L487.4,242.9 L487.7,243.8 L488.1,242.3 L488.4,245.4 L488.8,242.2 L489.1,247.1 L489.4,243.8 L489.8,243.1 L490.1,241.6 L490.5,238.1 L490.8,242.1 L491.1,242.6 L491.5,245.2 L491.8,240.3 L492.2,245.2 L492.5,242.0 L492.8,243.5 L493.2,238.6 L493.5,242.6 L493.9,241.9 L494.2,243.4 L494.5,242.5 L494.9,240.7 L495.2,243.8 L495.6,243.4 L495.9,243.3 L496.2,243.9 L496.6,244.1 L496.9,242.4 L497.3,240.4 L497.6,240.4 L497.9,244.5 L498.3,243.5 L498.6,242.6 L499.0,241.8 L499.3,242.5 L499.6,242.5 L500.0,242.0 L500.3,241.4 L500.7,245.7 L501.0,242.8 L501.3,241.6 L501.7,240.5 L502.0,241.4 L502.4,243.6 L502.7,243.7 L503.0,242.2 L503.4,242.6 L503.7,242.1 L504.1,240.9 L504.4,244.5 L504.7,243.1 L505.1,246.3 L505.4,241.4 L505.8,242.4 L506.1,243.9 L506.4,242.2 L506.8,240.5 L507.1,241.2 L507.5,242.7 L507.8,243.1 L508.1,242.5 L508.5,244.1 L508.8,244.1 L509.2,243.1 L509.5,242.7 L509.8,242.2 L510.2,243.5 L510.5,244.0 L510.9,242.7 L511.2,243.3 L511.5,242.2 L511.9,240.5 L512.2,241.2 L512.6,243.8 L512.9,243.3 L513.2,245.1 L513.6,242.8 L513.9,244.0 L514.3,244.7 L514.6,244.2 L514.9,241.8 L515.3,242.4 L515.6,242.9 L516.0,241.2 L516.3,243.4 L516.6,244.3 L517.0,242.0 L517.3,245.7 L517.7,242.3 L518.0,242.4 L518.3,242.4 L518.7,241.7 L519.0,243.4 L519.4,242.8 L519.7,245.3 L520.0,243.7 L520.4,243.6 L520.7,242.4 L521.1,240.7 L521.4,242.6 L521.7,241.5 L522.1,244.2 L522.4,242.8 L522.8,245.3 L523.1,243.9 L523.4,244.1 L523.8,243.2 L524.1,243.1 L524.5,243.8 L524.8,244.2 L525.1,241.8 L525.5,243.6 L525.8,246.8 L526.2,242.7 L526.5,242.5 L526.8,241.8" fill="none" stroke="#b9b9b9" stroke-width="2.2" stroke-linejoin="round" stroke-linecap="butt"/>
<path d="M309.5,219.6 L309.9,222.2 L310.2,221.7 L310.5,222.3 L310.9,223.9 L311.2,224.8 L311.6,222.5 L311.9,224.3 L312.2,224.3 L312.6,224.4 L312.9,224.7 L313.3,224.6 L313.6,226.1 L313.9,225.6 L314.3,225.6 L314.6,226.5 L315.0,226.4 L315.3,226.2 L315.6,226.3 L316.0,227.6 L316.3,226.8 L316.7,226.4 L317.0,225.9 L317.3,226.5 L317.7,226.1 L318.0,227.1 L318.4,227.3 L318.7,225.6 L319.0,227.4 L319.4,228.0 L319.7,227.7 L320.1,226.9 L320.4,228.7 L320.7,227.3 L321.1,226.9 L321.4,227.1 L321.8,228.0 L322.1,228.9 L322.4,229.1 L322.8,228.4 L323.1,227.4 L323.5,227.9 L323.8,227.7 L324.1,228.4 L324.5,227.2 L324.8,228.7 L325.2,229.2 L325.5,228.6 L325.8,229.2 L326.2,228.1 L326.5,227.8 L326.9,228.5 L327.2,229.9 L327.3,229.2" fill="none" stroke="#1c1c1c" stroke-width="3.2" stroke-linejoin="round" stroke-linecap="round"/>
<line x1="327.3" y1="229.2" x2="327.3" y2="337.8" stroke="#1c1c1c" stroke-width="1.4"/>
<path d="M327.4,290.8 L327.6,289.5 L327.9,286.2 L328.3,285.6 L328.6,282.5 L329.0,282.4 L329.3,280.1 L329.6,278.0 L330.0,278.0 L330.3,275.9 L330.7,275.0 L331.0,273.9 L331.3,274.5 L331.7,273.6 L332.0,273.0 L332.4,272.3 L332.7,273.3 L333.0,271.4 L333.4,270.8 L333.7,272.0 L334.1,271.8 L334.4,270.5 L334.7,268.5 L335.1,269.1 L335.4,269.8 L335.8,269.0 L336.1,269.9 L336.4,267.3 L336.8,268.7 L337.1,267.3 L337.5,268.6 L337.8,267.3 L338.1,267.9 L338.5,266.3 L338.8,265.4 L339.2,265.4 L339.5,265.6 L339.8,265.1 L340.2,266.6 L340.5,266.5 L340.9,265.5 L341.2,264.2 L341.5,264.7 L341.9,264.1 L342.2,265.6 L342.6,264.5 L342.9,264.4 L343.2,263.6 L343.6,262.1 L343.9,262.9 L344.3,262.4 L344.6,263.5 L344.9,263.1 L345.3,262.2 L345.6,262.4 L346.0,263.8 L346.3,261.6 L346.6,261.5 L347.0,261.9 L347.3,261.3 L347.7,261.4 L348.0,262.0 L348.3,262.8 L348.7,259.9 L349.0,261.1 L349.4,261.1 L349.7,260.8 L350.0,260.6 L350.4,260.4 L350.7,261.3 L351.1,260.0 L351.4,260.1 L351.7,260.1 L352.1,260.1 L352.4,259.7 L352.8,260.5 L353.1,259.6 L353.4,259.6 L353.8,259.3 L354.1,258.5 L354.5,258.5 L354.8,258.2 L355.1,259.1 L355.5,258.2 L355.8,257.8 L356.2,258.7 L356.5,258.8 L356.8,256.8 L357.2,259.5 L357.5,258.0 L357.9,257.8 L358.2,258.6 L358.5,257.7 L358.9,257.0 L359.2,259.1 L359.6,256.4 L359.9,257.0 L360.2,257.7 L360.6,256.0 L360.9,256.7 L361.3,257.0 L361.6,258.5 L361.9,255.7 L362.3,256.3 L362.6,256.7 L363.0,256.2 L363.3,255.0 L363.6,256.2 L364.0,255.9 L364.3,256.0 L364.7,256.5 L365.0,256.3 L365.3,255.7 L365.7,255.5 L366.0,254.3 L366.4,254.9 L366.7,255.1 L367.0,254.5 L367.4,254.8 L367.7,254.0 L368.1,255.8 L368.4,256.2 L368.7,254.1 L369.1,254.7 L369.4,254.1 L369.8,255.2 L370.1,254.5 L370.4,254.1 L370.8,253.8 L371.1,254.0 L371.5,253.0 L371.8,254.3 L372.1,253.1 L372.5,254.0 L372.8,253.6 L373.2,254.3 L373.5,253.4 L373.8,254.1 L374.2,252.5 L374.5,253.7 L374.9,252.9 L375.2,253.2 L375.5,253.0 L375.9,253.7 L376.2,251.2 L376.6,253.0 L376.9,251.5 L377.2,253.6 L377.6,251.0 L377.9,251.7 L378.3,251.1 L378.6,253.7 L378.9,251.3 L379.3,252.3 L379.6,251.7 L380.0,250.7 L380.3,251.8 L380.6,252.5 L381.0,251.7 L381.3,252.6 L381.7,251.5 L382.0,251.7 L382.3,251.3 L382.7,251.8 L383.0,253.0 L383.4,251.7 L383.7,251.5 L384.0,250.8 L384.4,250.6 L384.7,252.3 L385.1,250.2 L385.4,250.3 L385.7,250.8 L386.1,250.5 L386.4,252.4 L386.8,248.8 L387.1,251.0 L387.4,251.2 L387.8,249.6 L388.1,250.0 L388.5,250.8 L388.8,251.7 L389.1,249.5 L389.5,249.0 L389.8,250.9 L390.2,251.3 L390.5,249.8 L390.8,248.2 L391.2,251.1 L391.5,249.7 L391.9,250.7 L392.2,249.7 L392.5,249.4 L392.9,249.3 L393.2,250.7 L393.6,250.7 L393.9,247.7 L394.2,248.7 L394.6,250.8 L394.9,249.0 L395.3,248.2 L395.6,249.2 L395.9,249.1 L396.3,249.0 L396.6,248.7 L397.0,248.7 L397.3,248.6 L397.6,249.2 L398.0,248.2 L398.3,248.6 L398.7,248.6 L399.0,249.7 L399.3,248.9 L399.7,248.5 L400.0,249.0 L400.4,248.8 L400.7,249.3 L401.0,248.8 L401.4,249.8 L401.7,249.4 L402.1,248.2 L402.4,247.9 L402.7,248.9 L403.1,248.5 L403.4,248.0 L403.8,246.8 L404.1,246.5 L404.4,248.2 L404.8,248.5 L405.1,248.5 L405.5,246.8 L405.8,248.6 L406.1,247.3 L406.5,248.0 L406.8,247.9 L407.2,246.9 L407.5,247.0 L407.8,245.8 L408.2,246.7 L408.5,245.9 L408.9,247.7 L409.2,247.3 L409.5,248.0 L409.9,247.5 L410.2,246.7 L410.6,247.4 L410.9,246.8 L411.2,247.5 L411.6,247.3 L411.9,246.2 L412.3,246.9 L412.6,246.9 L412.9,246.6 L413.3,247.5 L413.6,248.1 L414.0,246.4 L414.3,246.4 L414.6,244.8 L415.0,246.5 L415.3,246.2 L415.7,244.8 L416.0,246.7 L416.3,246.9 L416.7,245.8 L417.0,246.0 L417.4,245.5 L417.7,246.9 L418.0,245.0 L418.4,245.9 L418.7,247.7 L419.1,246.1 L419.4,246.4 L419.7,245.9 L420.1,245.0 L420.4,245.9 L420.8,246.2 L421.1,245.1 L421.4,246.1 L421.8,246.8 L422.1,246.6 L422.5,244.5 L422.8,244.9 L423.1,244.4 L423.5,246.5 L423.8,246.1 L424.2,246.1 L424.5,244.8 L424.8,244.5 L425.2,245.5 L425.5,245.5 L425.9,244.7 L426.2,245.4 L426.5,245.8 L426.9,245.4 L427.2,244.4 L427.6,243.5 L427.9,245.0 L428.2,245.3 L428.6,244.9 L428.9,244.8 L429.3,244.5 L429.6,245.6 L429.9,245.0 L430.3,245.1 L430.6,244.2 L431.0,244.5 L431.3,245.1 L431.6,244.1 L432.0,243.9 L432.3,244.6 L432.7,245.8 L433.0,245.0 L433.3,246.0 L433.7,244.7 L434.0,244.6 L434.4,243.7 L434.7,244.3 L435.0,245.9 L435.4,245.0 L435.7,245.3 L436.1,245.2 L436.4,244.7 L436.7,244.5 L437.1,244.7 L437.4,245.1 L437.8,245.0 L438.1,245.0 L438.4,244.7 L438.8,243.9 L439.1,244.3 L439.5,243.7 L439.8,245.3 L440.1,242.8 L440.5,244.3 L440.8,246.3 L441.2,244.1 L441.5,243.5 L441.8,244.3 L442.2,245.4 L442.5,244.2 L442.9,244.8 L443.2,244.4 L443.5,244.0 L443.9,246.8 L444.2,244.3 L444.6,243.8 L444.9,243.8 L445.2,244.5 L445.6,244.5 L445.9,244.8 L446.3,244.2 L446.6,243.0 L446.9,244.5 L447.3,243.8 L447.6,243.8 L448.0,242.9 L448.3,243.6 L448.6,243.5 L449.0,244.0 L449.3,242.9 L449.7,244.1 L450.0,244.1 L450.3,243.1 L450.7,243.5 L451.0,243.3 L451.4,244.7 L451.7,242.0 L452.0,243.7 L452.4,242.6 L452.7,243.6 L453.1,244.6 L453.4,243.4 L453.7,244.1 L454.1,243.3 L454.4,245.5 L454.8,244.7 L455.1,244.8 L455.4,242.8 L455.8,243.0 L456.1,244.8 L456.5,243.7 L456.8,243.7 L457.1,244.1 L457.5,242.9 L457.8,244.5 L458.2,243.9 L458.5,244.2 L458.8,243.3 L459.2,244.2 L459.5,243.3 L459.9,244.6 L460.2,244.7 L460.5,244.5 L460.9,244.2 L461.2,244.3 L461.6,241.6 L461.9,244.4 L462.2,243.6 L462.6,243.8 L462.9,243.5 L463.3,242.6 L463.6,243.3 L463.9,244.3 L464.3,244.9 L464.6,243.2 L465.0,243.0 L465.3,244.9 L465.6,243.0 L466.0,245.4 L466.3,243.7 L466.7,243.0 L467.0,244.5 L467.3,245.0 L467.7,242.5 L468.0,244.9 L468.4,243.4 L468.7,244.8 L469.0,243.3 L469.4,242.4 L469.7,244.0 L470.1,244.4 L470.4,245.3 L470.7,245.0 L471.1,244.2 L471.4,243.4 L471.8,243.2 L472.1,243.4 L472.4,242.9 L472.8,243.4 L473.1,241.5 L473.5,243.7 L473.8,243.5 L474.1,245.6 L474.5,244.2 L474.8,243.2 L475.2,244.0 L475.5,242.5 L475.8,243.0 L476.2,242.0 L476.5,244.7 L476.9,244.0 L477.2,242.6 L477.5,243.4 L477.9,244.2 L478.2,243.9 L478.6,243.8 L478.9,242.8 L479.2,243.0 L479.6,243.5 L479.9,244.2 L480.3,242.8 L480.6,242.5 L480.9,244.3 L481.3,242.7 L481.6,244.3 L482.0,243.6 L482.3,244.1 L482.6,244.8 L483.0,243.9 L483.3,244.0 L483.7,242.7 L484.0,242.8 L484.3,243.9 L484.7,244.6 L485.0,244.5 L485.4,245.2 L485.7,243.6 L486.0,243.5 L486.4,244.1 L486.7,243.4 L487.1,243.3 L487.4,242.5 L487.7,244.1 L488.1,242.5 L488.4,243.7 L488.8,242.2 L489.1,244.2 L489.4,242.5 L489.8,244.0 L490.1,242.1 L490.5,243.0 L490.8,244.3 L491.1,242.7 L491.5,243.4 L491.8,242.9 L492.2,241.5 L492.5,243.6 L492.8,243.7 L493.2,242.4 L493.5,243.8 L493.9,242.7 L494.2,242.5 L494.5,243.3 L494.9,242.8 L495.2,245.2 L495.6,242.1 L495.9,243.9 L496.2,244.1 L496.6,241.7 L496.9,241.9 L497.3,243.8 L497.6,242.9 L497.9,243.6 L498.3,244.2 L498.6,243.0 L499.0,242.5 L499.3,241.1 L499.6,243.5 L500.0,242.6 L500.3,243.6 L500.7,243.5 L501.0,242.2 L501.3,244.7 L501.7,244.2 L502.0,244.0 L502.4,242.4 L502.7,243.0 L503.0,242.9 L503.4,243.0 L503.7,242.4 L504.1,243.7 L504.4,243.5 L504.7,243.6 L505.1,242.9 L505.4,244.4 L505.8,243.5 L506.1,241.1 L506.4,242.8 L506.8,243.3 L507.1,244.1 L507.5,243.1 L507.8,243.1 L508.1,242.8 L508.5,243.9 L508.8,243.0 L509.2,242.8 L509.5,242.7 L509.8,243.8 L510.2,242.9 L510.5,242.0 L510.9,243.8 L511.2,242.8 L511.5,243.6 L511.9,243.6 L512.2,244.3 L512.6,244.2 L512.9,242.9 L513.2,243.2 L513.6,242.3 L513.9,244.7 L514.3,243.7 L514.6,244.4 L514.9,243.1 L515.3,241.7 L515.6,244.6 L516.0,243.4 L516.3,243.4 L516.6,243.4 L517.0,243.8 L517.3,243.8 L517.7,242.1 L518.0,244.2 L518.3,242.9 L518.7,243.0 L519.0,244.7 L519.4,244.1 L519.7,243.1 L520.0,241.8 L520.4,243.5 L520.7,243.8 L521.1,243.3 L521.4,242.3 L521.7,242.7 L522.1,242.3 L522.4,243.5 L522.8,244.0 L523.1,244.2 L523.4,242.7 L523.8,243.5 L524.1,243.8 L524.5,242.9 L524.8,243.2 L525.1,245.0 L525.5,243.5 L525.8,244.0 L526.2,243.0 L526.5,243.4 L526.8,242.0" fill="none" stroke="#1c1c1c" stroke-width="2.6" stroke-linejoin="round" stroke-linecap="butt"/>
<line x1="304.7" y1="337.8" x2="307.5" y2="337.8" stroke="#000" stroke-width="1.5"/><text class="tk" text-anchor="end" transform="translate(300.80,341.10)">0</text><line x1="304.7" y1="319.0" x2="307.5" y2="319.0" stroke="#000" stroke-width="1.5"/><text class="tk" text-anchor="end" transform="translate(300.80,322.30)">0.2</text><line x1="304.7" y1="300.2" x2="307.5" y2="300.2" stroke="#000" stroke-width="1.5"/><text class="tk" text-anchor="end" transform="translate(300.80,303.50)">0.4</text><line x1="304.7" y1="281.4" x2="307.5" y2="281.4" stroke="#000" stroke-width="1.5"/><text class="tk" text-anchor="end" transform="translate(300.80,284.70)">0.6</text><line x1="304.7" y1="262.6" x2="307.5" y2="262.6" stroke="#000" stroke-width="1.5"/><text class="tk" text-anchor="end" transform="translate(300.80,265.90)">0.8</text><line x1="304.7" y1="243.8" x2="307.5" y2="243.8" stroke="#000" stroke-width="1.5"/><text class="tk" text-anchor="end" transform="translate(300.80,247.10)">1</text><line x1="304.7" y1="225.0" x2="307.5" y2="225.0" stroke="#000" stroke-width="1.5"/><text class="tk" text-anchor="end" transform="translate(300.80,228.30)">1.2</text><line x1="304.7" y1="206.2" x2="307.5" y2="206.2" stroke="#000" stroke-width="1.5"/><text class="tk" text-anchor="end" transform="translate(300.80,209.50)">1.4</text><line x1="307.3" y1="337.8" x2="307.3" y2="341" stroke="#000" stroke-width="1.5"/><text class="tx" text-anchor="middle" transform="translate(306.12,354.30) scale(0.98,1)">–5</text><line x1="327.3" y1="337.8" x2="327.3" y2="341" stroke="#000" stroke-width="1.5"/><text class="tx" text-anchor="middle" transform="translate(327.30,354.30) scale(0.98,1)">0</text><line x1="347.3" y1="337.8" x2="347.3" y2="341" stroke="#000" stroke-width="1.5"/><text class="tx" text-anchor="middle" transform="translate(347.28,354.30) scale(0.98,1)">5</text><line x1="367.2" y1="337.8" x2="367.2" y2="341" stroke="#000" stroke-width="1.5"/><text class="tx" text-anchor="middle" transform="translate(367.25,354.30) scale(0.98,1)">10</text><line x1="387.2" y1="337.8" x2="387.2" y2="341" stroke="#000" stroke-width="1.5"/><text class="tx" text-anchor="middle" transform="translate(387.23,354.30) scale(0.98,1)">15</text><line x1="407.2" y1="337.8" x2="407.2" y2="341" stroke="#000" stroke-width="1.5"/><text class="tx" text-anchor="middle" transform="translate(407.20,354.30) scale(0.98,1)">20</text><line x1="427.2" y1="337.8" x2="427.2" y2="341" stroke="#000" stroke-width="1.5"/><text class="tx" text-anchor="middle" transform="translate(427.18,354.30) scale(0.98,1)">25</text><line x1="447.2" y1="337.8" x2="447.2" y2="341" stroke="#000" stroke-width="1.5"/><text class="tx" text-anchor="middle" transform="translate(447.15,354.30) scale(0.98,1)">30</text><line x1="467.1" y1="337.8" x2="467.1" y2="341" stroke="#000" stroke-width="1.5"/><text class="tx" text-anchor="middle" transform="translate(467.12,354.30) scale(0.98,1)">35</text><line x1="487.1" y1="337.8" x2="487.1" y2="341" stroke="#000" stroke-width="1.5"/><text class="tx" text-anchor="middle" transform="translate(487.10,354.30) scale(0.98,1)">40</text><line x1="507.1" y1="337.8" x2="507.1" y2="341" stroke="#000" stroke-width="1.5"/><text class="tx" text-anchor="middle" transform="translate(507.08,354.30) scale(0.98,1)">45</text><line x1="527.0" y1="337.8" x2="527.0" y2="341" stroke="#000" stroke-width="1.5"/><text class="tx" text-anchor="middle" transform="translate(527.05,354.30) scale(0.98,1)">50</text>
<path d="M307.5,206.2 V337.8 H527.0" fill="none" stroke="#000" stroke-width="1.8" stroke-linecap="square"/>
<text class="ay" text-anchor="middle" transform="translate(281.70,271.50) rotate(-90) scale(0.915,1)">Rel. fluorescence</text>
<text class="ax" transform="translate(397.10,369.50) scale(0.9,1)">Time [s]</text>
<text class="pl" transform="translate(273.80,373.30)">d</text>
<line x1="421.8" y1="291.6" x2="437" y2="291.6" stroke="#111" stroke-width="1.9"/><text class="lg" transform="translate(440.00,295.10) scale(0.945,1)">AR wt</text><line x1="421.8" y1="304.7" x2="437" y2="304.7" stroke="#999" stroke-width="1.9"/><text class="lg" transform="translate(440.00,308.20) scale(0.945,1)">AR (A573D)</text>
</svg>
</body></html>
